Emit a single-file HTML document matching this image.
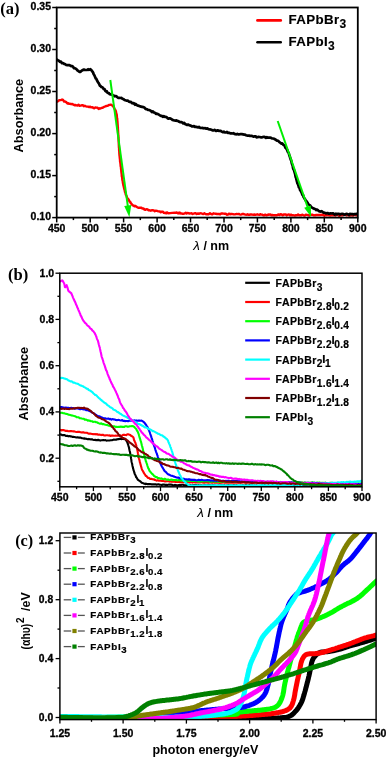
<!DOCTYPE html>
<html><head><meta charset="utf-8"><style>
html,body{margin:0;padding:0;background:#fff;}
body{width:388px;height:760px;overflow:hidden;}
svg{display:block;}
</style></head><body>
<svg width="388" height="760" viewBox="0 0 388 760">
<defs>
<clipPath id="ca"><rect x="56.7" y="7.5" width="301.1" height="210.1"/></clipPath>
<clipPath id="cb"><rect x="59.8" y="273.2" width="302.2" height="213.6"/></clipPath>
<clipPath id="cc"><rect x="59.9" y="533.0" width="316.2" height="186.6"/></clipPath>
</defs>
<rect width="388" height="760" fill="#fff"/>
<polyline points="57.0,101.6 57.7,101.5 58.7,100.5 59.9,100.1 61.2,100.0 62.1,99.5 63.0,99.9 64.1,101.5 65.1,101.5 66.2,102.1 67.4,103.5 68.3,103.2 69.3,103.9 70.2,103.8 71.2,104.2 72.3,103.9 73.4,104.7 74.5,105.2 75.6,105.0 76.5,105.4 77.5,105.5 78.5,104.8 79.6,105.7 80.6,105.6 81.7,105.3 82.7,105.1 83.8,106.2 84.9,105.8 85.9,106.3 87.0,106.6 88.0,106.6 89.2,107.1 90.3,106.7 91.4,107.4 92.5,107.2 93.5,108.0 94.5,108.2 95.4,107.4 96.2,107.6 97.6,107.8 98.7,108.9 99.6,108.3 100.4,108.5 101.3,108.0 102.4,107.9 103.4,107.3 104.4,106.7 105.5,106.4 106.5,105.9 107.7,105.8 108.9,105.0 110.0,104.9 110.8,104.6 111.8,105.2 112.4,105.7 113.1,105.8 113.8,107.4 114.5,108.6 114.9,109.3 115.3,109.9 115.7,111.1 116.0,111.7 116.2,113.2 116.4,113.7 116.6,114.2 116.8,115.0 116.9,117.1 117.1,118.6 117.2,118.3 117.3,120.0 117.3,120.5 117.4,121.2 117.5,122.4 117.6,124.1 117.7,125.3 117.7,125.4 117.8,127.1 117.9,127.5 117.9,129.3 118.0,129.8 118.1,131.5 118.1,132.6 118.2,133.0 118.2,134.5 118.3,134.6 118.4,135.2 118.4,136.8 118.5,137.1 118.5,138.4 118.6,139.9 118.6,141.0 118.7,141.3 118.7,142.1 118.8,144.1 118.8,144.4 118.9,146.1 118.9,147.1 119.0,147.5 119.1,148.6 119.1,149.8 119.2,151.0 119.3,152.0 119.3,153.0 119.4,154.1 119.5,155.5 119.6,156.0 119.7,156.9 119.8,158.3 119.9,158.8 120.0,159.9 120.1,161.8 120.3,162.3 120.4,163.4 120.5,163.8 120.6,165.3 120.7,166.5 120.9,166.8 121.0,168.5 121.1,169.4 121.2,169.6 121.3,171.2 121.4,172.2 121.6,173.6 121.7,174.3 121.8,175.8 121.9,176.8 122.1,176.8 122.2,177.8 122.3,179.4 122.5,180.6 122.6,180.7 122.8,182.1 123.0,183.4 123.2,184.1 123.4,185.3 123.7,186.3 123.9,187.4 124.2,188.6 124.4,189.3 124.7,190.5 125.0,192.0 125.3,192.2 125.6,193.9 125.9,195.0 126.3,195.4 126.6,196.2 127.2,198.1 127.7,198.3 128.3,199.2 129.0,200.4 129.6,201.6 130.2,201.9 130.8,203.1 131.6,204.0 132.6,205.4 133.4,205.4 134.2,206.3 135.2,205.9 136.2,206.5 137.3,207.2 138.3,207.8 139.4,207.6 140.4,207.7 141.4,207.8 142.4,208.6 143.4,208.5 144.5,209.5 145.5,209.8 146.5,209.2 147.6,209.5 148.6,210.4 149.6,210.3 150.7,210.7 151.7,210.3 152.8,210.1 153.8,210.5 154.8,211.2 155.9,210.7 156.9,210.9 157.9,211.2 158.9,211.4 159.9,211.5 160.8,212.3 161.8,211.6 162.8,211.6 163.9,212.9 165.0,213.0 165.7,213.2 166.2,212.6 166.4,213.2 166.7,213.2 167.1,212.4 167.7,213.1 168.6,213.2 170.1,213.1 172.2,212.9 175.0,212.7 175.6,212.8 176.2,212.7 176.9,212.5 177.6,213.2 178.3,212.8 179.0,213.5 179.8,212.6 180.6,213.6 181.4,213.4 182.2,213.7 183.0,213.7 183.9,213.7 184.8,213.3 185.7,212.7 186.6,213.6 187.6,212.9 188.5,213.1 189.5,213.6 190.5,213.4 191.5,213.3 192.5,214.0 193.5,213.6 194.6,213.3 195.6,213.2 196.7,214.0 197.7,213.5 198.8,213.9 199.9,213.4 201.0,213.3 202.1,213.7 203.2,214.0 204.4,213.3 205.5,214.1 206.6,214.2 207.7,214.1 208.9,214.2 210.0,213.2 211.1,214.0 212.3,214.3 213.4,213.3 214.6,213.6 215.7,213.7 216.8,214.0 218.0,213.9 219.1,214.0 220.2,214.4 221.3,213.4 222.4,213.5 223.5,213.6 224.6,213.7 225.7,213.6 226.8,214.7 227.9,214.6 228.9,213.7 230.0,214.2 231.0,214.0 231.9,214.0 232.9,214.1 233.8,214.4 234.8,214.4 235.8,214.1 236.7,213.9 237.7,214.1 238.7,213.9 239.6,214.4 240.6,214.6 241.6,214.3 242.5,213.9 243.5,214.0 244.5,214.3 245.5,214.6 246.4,214.8 247.4,214.3 248.4,214.9 249.4,214.7 250.4,214.5 251.3,214.4 252.3,214.6 253.3,214.8 254.3,214.5 255.3,214.8 256.3,214.6 257.3,214.3 258.3,214.7 259.2,214.9 260.2,214.2 261.2,214.6 262.2,214.6 263.2,215.2 264.3,215.3 265.3,214.6 266.3,215.2 267.3,215.1 268.3,214.5 269.3,214.7 270.3,214.4 271.3,215.2 272.3,215.0 273.4,215.3 274.4,215.2 275.4,215.1 276.4,215.2 277.5,215.0 278.5,214.4 279.5,215.0 280.6,214.3 281.6,214.5 282.7,215.3 283.7,214.4 284.7,214.5 285.8,214.5 286.8,215.4 287.9,214.6 288.9,214.4 290.0,215.4 291.0,214.6 291.9,215.4 292.9,215.2 293.9,215.4 294.9,215.6 296.0,215.1 297.0,215.4 298.1,214.5 299.2,215.4 300.3,215.1 301.4,215.3 302.5,214.6 303.6,215.4 304.7,215.6 305.8,214.6 307.0,214.9 308.1,215.2 309.3,215.5 310.4,214.8 311.6,214.7 312.7,214.8 313.9,215.3 315.1,215.4 316.2,215.0 317.4,215.0 318.6,215.0 319.7,215.0 320.9,215.0 322.1,214.6 323.2,215.1 324.4,215.7 325.5,215.0 326.7,215.4 327.8,214.7 328.9,215.4 330.1,215.5 331.2,215.4 332.3,215.2 333.4,215.1 334.5,215.3 335.5,215.6 336.6,214.7 337.7,214.7 338.7,215.5 339.7,215.7 340.7,215.2 341.7,215.1 342.7,215.4 343.6,214.8 344.6,214.9 345.5,214.8 346.4,215.3 347.3,215.0 348.1,214.9 349.0,215.4 349.8,215.7 350.6,214.9 351.3,215.4 352.1,215.1 352.8,215.6 353.5,215.3 354.1,214.9 354.8,214.9 355.4,214.6 355.9,215.2 356.5,215.1 357.0,215.2" fill="none" stroke="#ff0000" stroke-width="2.4" stroke-linejoin="round" stroke-linecap="round" clip-path="url(#ca)"/>
<polyline points="57.0,59.6 57.7,60.2 58.7,60.6 59.9,61.8 61.0,61.6 62.0,63.2 63.0,63.2 64.1,63.9 65.3,64.3 66.2,65.0 67.3,65.2 68.4,65.1 69.5,65.2 70.6,65.7 71.5,66.2 72.4,66.2 73.3,67.2 74.0,68.2 74.8,68.2 75.6,68.6 76.5,69.2 77.4,70.4 78.4,71.0 79.3,71.8 80.2,71.9 81.2,71.1 82.0,70.5 82.9,70.0 83.9,69.5 84.9,70.0 86.0,70.0 87.1,70.0 88.1,69.2 89.0,69.9 90.4,69.2 91.7,70.4 92.1,71.4 92.6,71.5 93.1,72.5 93.7,74.4 94.2,74.9 94.7,76.1 95.3,77.5 95.8,78.6 96.2,78.6 96.9,80.3 97.6,81.5 98.2,82.6 98.8,83.2 99.3,84.4 100.0,85.9 100.6,85.9 101.3,86.9 102.0,87.0 102.8,87.8 103.6,88.9 104.5,89.0 105.2,90.7 106.0,91.4 106.7,91.2 107.6,93.0 108.7,93.0 109.6,94.0 110.6,94.5 111.7,94.4 112.8,95.3 114.0,95.7 115.0,96.3 116.0,96.0 117.2,97.1 118.3,97.8 119.3,97.8 120.3,98.0 121.3,97.9 122.4,98.8 123.4,99.1 124.5,99.9 125.5,100.3 126.6,100.6 127.7,100.5 128.8,101.5 129.9,102.0 130.9,101.8 131.8,103.1 132.7,103.3 133.5,103.0 135.0,104.7 135.7,104.0 136.4,104.6 137.2,105.4 138.1,105.6 139.0,105.9 140.0,106.4 141.0,106.6 142.1,106.8 143.2,107.1 144.3,107.5 145.5,108.8 146.3,109.2 147.2,109.3 148.1,110.0 149.0,110.0 149.9,110.3 150.9,110.9 151.9,112.0 152.9,111.4 153.9,112.5 154.9,112.7 155.9,113.8 156.9,113.7 157.9,114.1 158.9,114.7 159.9,115.3 160.9,115.9 161.9,115.8 162.8,116.8 163.8,116.2 164.8,116.8 165.7,116.9 166.7,117.2 167.7,118.4 168.6,118.6 169.6,118.3 170.6,118.6 171.6,119.2 172.5,119.9 173.5,120.2 174.5,120.5 175.4,120.6 176.4,120.4 177.4,121.0 178.3,121.1 179.3,121.8 180.3,122.2 181.2,122.1 182.2,122.5 183.2,123.4 184.2,122.9 185.1,124.1 186.1,124.5 187.1,124.9 188.0,124.5 189.0,125.0 190.0,125.4 190.9,125.7 191.9,126.4 192.9,126.3 194.0,126.1 195.0,127.0 196.0,126.8 197.0,127.1 198.1,127.5 199.1,126.8 200.1,127.9 201.1,128.0 202.2,127.9 203.2,128.2 204.2,128.3 205.2,128.1 206.3,128.7 207.3,128.3 208.3,129.1 209.4,129.5 210.4,129.4 211.4,129.8 212.5,130.4 213.5,130.5 214.5,129.8 215.6,130.8 216.6,130.8 217.6,130.3 218.7,130.8 219.7,130.9 220.7,130.8 221.8,131.6 222.8,132.2 223.8,131.7 224.9,132.5 226.0,132.5 227.0,131.9 228.1,133.0 229.2,132.8 230.3,133.4 231.3,133.3 232.4,133.5 233.4,133.2 234.4,133.9 235.4,134.2 236.4,134.3 237.4,133.9 238.3,134.4 239.5,134.3 240.7,134.0 241.8,134.1 243.0,134.3 244.0,134.6 245.1,134.7 246.1,135.2 247.1,135.6 248.1,135.6 249.1,135.6 250.0,136.0 251.2,135.8 252.4,136.1 253.4,136.7 254.5,136.4 255.5,136.3 256.5,137.3 257.5,137.2 258.6,136.9 259.6,137.0 260.7,137.3 261.7,137.4 262.8,137.0 263.9,136.8 264.9,137.1 265.9,137.9 266.9,137.2 267.8,137.7 269.0,137.5 270.1,137.7 271.1,137.9 272.0,138.5 273.0,138.5 274.0,138.7 274.9,139.2 275.8,139.7 276.7,140.6 277.7,140.6 278.5,141.1 279.4,142.1 280.2,142.6 281.2,143.6 282.2,143.4 283.0,144.4 283.9,145.2 284.8,145.8 285.3,147.6 285.7,147.5 286.2,148.1 286.7,149.4 287.2,149.9 287.6,151.4 288.1,152.1 288.6,152.9 289.0,154.0 289.5,156.0 289.8,156.2 290.1,157.7 290.4,158.2 290.7,159.6 290.9,159.8 291.2,160.7 291.5,161.7 291.8,163.4 292.1,164.2 292.4,164.9 292.7,165.6 292.9,167.3 293.2,168.7 293.5,169.2 293.8,169.5 294.1,170.5 294.4,171.6 294.7,172.7 295.0,173.5 295.2,174.5 295.5,176.2 295.8,177.5 296.1,177.7 296.4,179.6 296.6,180.0 296.9,181.4 297.2,182.5 297.5,183.5 297.8,183.3 298.1,184.6 298.5,185.8 298.8,187.1 299.2,187.2 299.7,188.5 300.1,190.2 300.6,190.3 301.1,191.7 301.6,192.6 302.1,194.0 302.6,195.2 303.1,195.2 303.5,196.8 304.0,197.7 304.5,198.6 305.0,199.1 305.7,200.6 306.3,200.9 306.9,201.9 307.5,202.6 308.2,204.1 308.8,204.5 309.5,205.0 310.3,205.6 311.1,207.0 311.9,207.4 312.7,208.1 313.6,208.3 314.4,208.9 315.4,209.0 316.3,210.1 317.3,209.7 318.3,210.6 319.3,211.3 320.4,211.6 321.3,211.2 322.3,211.6 323.3,212.6 324.3,212.6 325.3,213.1 326.4,213.3 327.5,213.0 328.6,213.7 329.6,213.7 330.7,213.3 331.8,213.5 332.8,213.3 333.8,213.8 334.9,214.6 335.9,213.6 337.0,214.3 338.0,213.8 339.0,213.8 340.1,214.5 341.1,214.0 342.1,213.8 343.2,214.0 344.2,214.6 345.2,214.5 346.3,213.8 347.5,214.0 348.8,214.9 350.0,213.9 351.3,214.2 352.5,214.0 353.6,214.4 354.6,214.1 355.6,214.2 356.4,213.9 357.0,213.8" fill="none" stroke="#000000" stroke-width="2.7" stroke-linejoin="round" stroke-linecap="round" clip-path="url(#ca)"/>
<line x1="110.3" y1="80.0" x2="128.0" y2="207.4" stroke="#00ee00" stroke-width="2.0"/>
<polygon points="129.4,217.3 124.2,205.9 131.3,204.9" fill="#00ee00"/>
<line x1="277.7" y1="121.0" x2="308.1" y2="208.4" stroke="#00ee00" stroke-width="2.0"/>
<polygon points="311.1,216.9 304.2,207.7 310.8,205.4" fill="#00ee00"/>
<rect x="56.7" y="7.5" width="301.1" height="210.1" fill="none" stroke="#000" stroke-width="1.8"/>
<line x1="52.2" y1="217.6" x2="56.7" y2="217.6" stroke="#000" stroke-width="1.5"/>
<text x="51.0" y="220.4" font-size="10.5" font-weight="bold" font-family='"Liberation Sans", Arial, sans-serif' text-anchor="end" stroke="#000" stroke-width="0.3">0.10</text>
<line x1="54.2" y1="196.6" x2="56.7" y2="196.6" stroke="#000" stroke-width="1.5"/>
<line x1="52.2" y1="175.6" x2="56.7" y2="175.6" stroke="#000" stroke-width="1.5"/>
<text x="51.0" y="178.4" font-size="10.5" font-weight="bold" font-family='"Liberation Sans", Arial, sans-serif' text-anchor="end" stroke="#000" stroke-width="0.3">0.15</text>
<line x1="54.2" y1="154.6" x2="56.7" y2="154.6" stroke="#000" stroke-width="1.5"/>
<line x1="52.2" y1="133.6" x2="56.7" y2="133.6" stroke="#000" stroke-width="1.5"/>
<text x="51.0" y="136.4" font-size="10.5" font-weight="bold" font-family='"Liberation Sans", Arial, sans-serif' text-anchor="end" stroke="#000" stroke-width="0.3">0.20</text>
<line x1="54.2" y1="112.5" x2="56.7" y2="112.5" stroke="#000" stroke-width="1.5"/>
<line x1="52.2" y1="91.5" x2="56.7" y2="91.5" stroke="#000" stroke-width="1.5"/>
<text x="51.0" y="94.3" font-size="10.5" font-weight="bold" font-family='"Liberation Sans", Arial, sans-serif' text-anchor="end" stroke="#000" stroke-width="0.3">0.25</text>
<line x1="54.2" y1="70.5" x2="56.7" y2="70.5" stroke="#000" stroke-width="1.5"/>
<line x1="52.2" y1="49.5" x2="56.7" y2="49.5" stroke="#000" stroke-width="1.5"/>
<text x="51.0" y="52.3" font-size="10.5" font-weight="bold" font-family='"Liberation Sans", Arial, sans-serif' text-anchor="end" stroke="#000" stroke-width="0.3">0.30</text>
<line x1="54.2" y1="28.5" x2="56.7" y2="28.5" stroke="#000" stroke-width="1.5"/>
<line x1="52.2" y1="7.5" x2="56.7" y2="7.5" stroke="#000" stroke-width="1.5"/>
<text x="51.0" y="10.3" font-size="10.5" font-weight="bold" font-family='"Liberation Sans", Arial, sans-serif' text-anchor="end" stroke="#000" stroke-width="0.3">0.35</text>
<line x1="56.7" y1="217.6" x2="56.7" y2="222.4" stroke="#000" stroke-width="1.5"/>
<text x="56.7" y="231.6" font-size="10.5" font-weight="bold" font-family='"Liberation Sans", Arial, sans-serif' text-anchor="middle" stroke="#000" stroke-width="0.3">450</text>
<line x1="73.4" y1="217.6" x2="73.4" y2="220.1" stroke="#000" stroke-width="1.5"/>
<line x1="90.2" y1="217.6" x2="90.2" y2="222.4" stroke="#000" stroke-width="1.5"/>
<text x="90.2" y="231.6" font-size="10.5" font-weight="bold" font-family='"Liberation Sans", Arial, sans-serif' text-anchor="middle" stroke="#000" stroke-width="0.3">500</text>
<line x1="106.9" y1="217.6" x2="106.9" y2="220.1" stroke="#000" stroke-width="1.5"/>
<line x1="123.6" y1="217.6" x2="123.6" y2="222.4" stroke="#000" stroke-width="1.5"/>
<text x="123.6" y="231.6" font-size="10.5" font-weight="bold" font-family='"Liberation Sans", Arial, sans-serif' text-anchor="middle" stroke="#000" stroke-width="0.3">550</text>
<line x1="140.3" y1="217.6" x2="140.3" y2="220.1" stroke="#000" stroke-width="1.5"/>
<line x1="157.1" y1="217.6" x2="157.1" y2="222.4" stroke="#000" stroke-width="1.5"/>
<text x="157.1" y="231.6" font-size="10.5" font-weight="bold" font-family='"Liberation Sans", Arial, sans-serif' text-anchor="middle" stroke="#000" stroke-width="0.3">600</text>
<line x1="173.8" y1="217.6" x2="173.8" y2="220.1" stroke="#000" stroke-width="1.5"/>
<line x1="190.5" y1="217.6" x2="190.5" y2="222.4" stroke="#000" stroke-width="1.5"/>
<text x="190.5" y="231.6" font-size="10.5" font-weight="bold" font-family='"Liberation Sans", Arial, sans-serif' text-anchor="middle" stroke="#000" stroke-width="0.3">650</text>
<line x1="207.2" y1="217.6" x2="207.2" y2="220.1" stroke="#000" stroke-width="1.5"/>
<line x1="224.0" y1="217.6" x2="224.0" y2="222.4" stroke="#000" stroke-width="1.5"/>
<text x="224.0" y="231.6" font-size="10.5" font-weight="bold" font-family='"Liberation Sans", Arial, sans-serif' text-anchor="middle" stroke="#000" stroke-width="0.3">700</text>
<line x1="240.7" y1="217.6" x2="240.7" y2="220.1" stroke="#000" stroke-width="1.5"/>
<line x1="257.4" y1="217.6" x2="257.4" y2="222.4" stroke="#000" stroke-width="1.5"/>
<text x="257.4" y="231.6" font-size="10.5" font-weight="bold" font-family='"Liberation Sans", Arial, sans-serif' text-anchor="middle" stroke="#000" stroke-width="0.3">750</text>
<line x1="274.2" y1="217.6" x2="274.2" y2="220.1" stroke="#000" stroke-width="1.5"/>
<line x1="290.9" y1="217.6" x2="290.9" y2="222.4" stroke="#000" stroke-width="1.5"/>
<text x="290.9" y="231.6" font-size="10.5" font-weight="bold" font-family='"Liberation Sans", Arial, sans-serif' text-anchor="middle" stroke="#000" stroke-width="0.3">800</text>
<line x1="307.6" y1="217.6" x2="307.6" y2="220.1" stroke="#000" stroke-width="1.5"/>
<line x1="324.3" y1="217.6" x2="324.3" y2="222.4" stroke="#000" stroke-width="1.5"/>
<text x="324.3" y="231.6" font-size="10.5" font-weight="bold" font-family='"Liberation Sans", Arial, sans-serif' text-anchor="middle" stroke="#000" stroke-width="0.3">850</text>
<line x1="341.1" y1="217.6" x2="341.1" y2="220.1" stroke="#000" stroke-width="1.5"/>
<line x1="357.8" y1="217.6" x2="357.8" y2="222.4" stroke="#000" stroke-width="1.5"/>
<text x="357.8" y="231.6" font-size="10.5" font-weight="bold" font-family='"Liberation Sans", Arial, sans-serif' text-anchor="middle" stroke="#000" stroke-width="0.3">900</text>
<text x="211.2" y="249.8" font-size="12.5" font-weight="bold" font-family='"Liberation Sans", Arial, sans-serif' text-anchor="middle"><tspan font-style="italic" font-weight="normal" font-size="13.5">&#955;</tspan> / nm</text>
<text x="0.0" y="0.0" font-size="12.6" font-weight="bold" font-family='"Liberation Sans", Arial, sans-serif' text-anchor="middle" textLength="73.6" lengthAdjust="spacingAndGlyphs" transform="translate(22.9,115.6) rotate(-90)">Absorbance</text>
<text x="0.2" y="14.3" font-size="16.5" font-weight="bold" font-family='"Liberation Serif", "Times New Roman", serif' text-anchor="start">(a)</text>
<line x1="257.4" y1="20.4" x2="280.8" y2="20.4" stroke="#ff0000" stroke-width="2.6" stroke-linecap="round"/>
<line x1="257.4" y1="42.3" x2="280.8" y2="42.3" stroke="#000" stroke-width="2.4" stroke-linecap="round"/>
<text x="288.4" y="23.8" font-size="13.3" font-weight="bold" font-family='"Liberation Sans", Arial, sans-serif' text-anchor="start" stroke="#000" stroke-width="0.15" letter-spacing="0.4">FAPbBr<tspan font-size="12" letter-spacing="0" dy="4.0">3</tspan></text>
<text x="288.4" y="46.1" font-size="13.3" font-weight="bold" font-family='"Liberation Sans", Arial, sans-serif' text-anchor="start" stroke="#000" stroke-width="0.15" letter-spacing="0.4">FAPbI<tspan font-size="12" letter-spacing="0" dy="4.0">3</tspan></text>
<polyline points="60.0,434.4 60.6,434.5 61.4,434.6 62.4,435.3 63.5,435.0 64.7,435.1 65.9,436.0 67.1,435.7 68.3,436.4 69.2,436.0 70.2,436.4 71.2,436.3 72.3,436.9 73.3,436.9 74.4,437.0 75.4,437.2 76.5,437.5 77.6,437.2 78.6,437.6 79.6,437.6 80.7,437.6 81.7,438.2 82.7,438.3 83.8,438.6 84.8,438.4 85.8,438.8 86.8,438.9 87.9,439.2 88.9,438.9 89.9,439.2 91.0,439.4 92.0,439.3 93.0,439.7 94.1,440.0 95.1,439.9 96.1,440.1 97.1,440.1 98.2,439.9 99.2,440.1 100.2,440.6 101.3,440.2 102.3,440.3 103.3,440.0 104.3,440.2 105.4,440.1 106.4,440.6 107.4,440.5 108.5,440.5 109.5,440.5 110.6,440.2 111.7,440.3 112.8,439.9 113.9,439.6 115.0,439.8 116.1,439.6 117.2,439.4 118.2,439.0 119.1,439.1 119.9,438.7 121.3,439.1 122.4,439.0 123.4,438.6 124.2,439.2 125.0,439.0 125.8,439.6 126.4,440.8 127.0,441.6 127.5,443.0 127.8,443.9 128.1,444.4 128.4,445.9 128.7,446.6 129.0,447.8 129.2,448.8 129.5,450.2 129.7,451.1 129.9,451.8 130.1,452.6 130.3,453.8 130.5,454.9 130.6,455.7 130.8,456.8 131.0,458.2 131.2,459.1 131.4,460.4 131.5,461.4 131.7,462.3 131.9,463.0 132.1,463.8 132.3,464.9 132.5,466.0 132.8,467.1 133.0,468.1 133.3,469.1 133.6,470.4 133.9,471.0 134.2,472.1 134.5,473.3 134.9,474.2 135.3,474.9 135.7,475.8 136.1,477.1 136.5,477.4 137.0,478.2 137.7,479.5 138.4,480.2 139.1,480.6 140.0,481.2 140.9,481.9 141.7,482.8 142.9,483.1 144.4,483.8 145.0,483.8 145.4,484.1 145.6,483.6 145.9,483.8 146.4,483.7 147.1,484.1 148.1,484.1 149.7,484.0 151.8,484.4 154.7,484.2 155.3,484.4 155.9,484.4 156.6,484.8 157.2,484.5 157.9,484.4 158.6,484.3 159.3,484.6 160.0,484.7 160.8,484.8 161.5,485.0 162.3,484.9 163.1,484.5 163.9,484.5 164.8,484.9 165.6,484.9 166.5,484.8 167.3,485.0 168.2,484.8 169.1,484.6 170.0,484.6 171.0,484.5 171.9,484.9 172.9,485.1 173.8,485.2 174.8,484.9 175.8,485.0 176.9,485.2 177.9,485.2 178.9,485.0 180.0,484.9 181.0,485.0 182.1,484.8 183.2,484.8 184.3,485.2 185.4,485.4 186.6,485.1 187.7,485.0 188.9,485.0 190.0,485.1 191.2,485.3 192.4,485.1 193.6,485.5 194.8,484.9 196.0,485.0 197.2,485.2 198.5,485.1 199.7,485.4 201.0,485.4 202.2,485.5 203.5,485.3 204.8,484.9 206.1,485.3 207.4,485.3 208.7,485.3 210.0,485.1 210.8,485.5 211.6,485.6 212.5,485.0 213.3,485.4 214.2,485.2 215.1,485.4 215.9,485.6 216.8,485.7 217.7,485.5 218.6,485.2 219.5,485.7 220.5,485.2 221.4,485.3 222.4,485.6 223.3,485.3 224.3,485.3 225.2,485.7 226.2,485.7 227.2,485.3 228.2,485.4 229.2,485.3 230.2,485.2 231.2,485.3 232.2,485.8 233.3,485.2 234.3,485.3 235.3,485.3 236.4,485.2 237.4,485.5 238.5,485.7 239.5,485.7 240.6,485.6 241.6,485.7 242.7,485.2 243.8,485.4 244.8,485.9 245.9,485.2 247.0,485.4 248.1,485.5 249.1,485.4 250.2,485.6 251.3,485.3 252.4,485.4 253.5,485.9 254.6,485.3 255.7,485.9 256.7,485.4 257.8,485.9 258.9,485.7 260.0,485.7 261.1,485.4 262.2,485.3 263.3,485.8 264.3,485.4 265.4,485.4 266.5,485.9 267.6,485.9 268.6,485.3 269.7,486.0 270.8,485.7 271.8,485.6 272.9,485.4 274.0,485.6 275.0,486.0 276.0,485.5 277.1,485.4 278.1,485.5 279.2,485.4 280.2,485.6 281.2,486.0 282.2,485.4 283.2,485.5 284.2,486.0 285.2,486.1 286.2,486.1 287.2,485.6 288.2,485.6 289.1,486.1 290.1,485.7 291.0,485.9 292.0,485.6 292.9,485.4 293.8,485.7 294.7,485.9 295.6,486.0 296.5,485.8 297.4,485.8 298.3,485.8 299.1,485.8 300.0,485.8 301.2,486.0 302.5,485.6 303.7,485.9 304.9,486.1 306.1,486.1 307.4,485.6 308.6,486.2 309.8,486.1 311.1,485.6 312.3,485.7 313.5,485.6 314.7,485.5 315.9,486.2 317.2,485.8 318.4,486.1 319.6,485.6 320.8,485.5 322.0,486.1 323.1,486.1 324.3,486.2 325.5,486.0 326.7,485.9 327.8,486.1 329.0,485.6 330.1,485.9 331.2,485.9 332.3,485.7 333.5,486.0 334.6,485.8 335.6,485.9 336.7,485.8 337.8,485.8 338.8,485.8 339.9,486.0 340.9,486.3 341.9,486.3 342.9,486.2 343.9,486.2 344.9,485.8 345.9,486.3 346.8,485.8 347.7,485.7 348.6,486.0 349.5,486.1 350.4,485.9 351.3,486.1 352.1,485.8 352.9,486.3 353.7,485.9 354.5,486.0 355.3,486.0 356.0,486.2 356.7,486.3 357.4,486.0 358.1,485.9 358.8,486.1 359.4,485.7 360.0,485.9 360.6,486.2 361.1,486.2 361.7,485.7 362.2,486.0" fill="none" stroke="#000000" stroke-width="2.1" stroke-linejoin="round" stroke-linecap="round" clip-path="url(#cb)"/>
<polyline points="60.0,430.1 60.6,429.9 61.4,430.4 62.4,430.1 63.5,430.1 64.7,430.5 65.9,430.9 67.1,430.7 68.3,431.2 69.2,431.2 70.2,431.0 71.2,431.1 72.3,431.3 73.3,431.4 74.4,431.4 75.4,431.8 76.5,432.0 77.6,431.9 78.6,431.8 79.6,431.9 80.7,432.2 81.7,432.5 82.7,432.3 83.8,432.4 84.8,432.7 85.8,432.8 86.8,432.8 87.9,433.3 88.9,433.7 89.9,433.6 91.0,433.8 92.0,434.0 93.0,434.1 94.1,434.3 95.1,434.1 96.1,434.4 97.1,434.1 98.2,434.8 99.2,434.5 100.2,434.7 101.3,435.1 102.3,434.8 103.3,434.9 104.3,435.5 105.4,435.4 106.4,435.2 107.4,435.2 108.5,435.5 109.5,435.4 110.5,436.0 111.6,435.5 112.7,435.6 113.8,435.7 114.8,435.7 115.9,435.6 116.9,435.7 118.0,435.7 118.9,435.5 119.9,435.2 121.1,435.7 122.2,435.4 123.4,434.8 124.5,434.9 125.5,435.0 126.5,435.1 127.3,434.3 128.1,434.3 129.5,434.7 130.3,435.0 131.0,435.8 132.1,436.3 133.1,437.0 133.5,437.8 133.8,438.9 134.1,440.2 134.5,440.8 134.9,442.0 135.4,442.8 135.8,444.3 136.2,445.1 136.5,446.7 136.7,447.4 137.0,448.5 137.2,449.4 137.5,450.8 137.7,451.9 137.9,453.2 138.1,454.0 138.3,455.0 138.5,456.6 138.7,457.5 139.0,458.6 139.3,459.6 139.6,460.6 139.8,462.1 140.1,462.7 140.4,464.0 140.7,465.2 141.0,466.1 141.4,467.5 141.7,468.6 142.0,469.5 142.4,470.3 142.9,471.0 143.4,472.0 144.0,473.2 144.5,473.9 145.1,474.7 145.8,475.9 146.5,476.1 147.3,477.2 148.1,477.9 149.0,477.8 149.9,478.9 151.2,478.9 152.7,479.2 153.4,479.4 154.1,479.4 154.7,479.9 155.4,480.0 156.1,480.5 156.8,480.6 157.6,480.2 158.5,480.6 159.5,480.7 160.7,480.7 162.0,480.9 163.5,481.0 165.2,481.4 167.1,481.3 167.8,481.2 168.5,481.3 169.2,481.5 169.9,481.6 170.6,481.4 171.3,481.7 172.1,481.4 172.8,481.8 173.6,481.8 174.3,481.5 175.1,481.9 175.9,481.7 176.7,481.9 177.5,481.9 178.4,482.0 179.2,481.9 180.1,481.6 181.0,482.2 181.9,482.2 182.9,482.0 183.8,482.1 184.8,481.9 185.8,482.4 186.8,482.2 187.9,481.9 188.9,482.4 190.0,482.5 191.2,482.1 192.3,482.6 193.5,482.2 194.7,482.1 195.9,482.5 197.2,482.2 198.5,482.5 199.8,482.4 201.2,482.1 202.5,482.4 204.0,482.7 205.4,482.4 206.9,482.5 208.4,482.7 210.0,482.5 210.7,482.5 211.5,482.6 212.3,482.8 213.1,482.3 213.9,482.3 214.7,482.7 215.5,482.6 216.4,482.4 217.2,482.8 218.1,482.8 219.0,482.6 219.9,482.9 220.8,482.8 221.7,482.8 222.6,482.5 223.5,482.3 224.5,482.7 225.4,482.8 226.4,482.5 227.4,482.6 228.4,482.7 229.3,482.5 230.3,482.8 231.3,482.7 232.4,482.6 233.4,482.4 234.4,482.7 235.4,482.5 236.5,482.8 237.5,482.4 238.6,482.6 239.7,482.5 240.7,482.6 241.8,482.7 242.9,482.4 243.9,482.4 245.0,482.7 246.1,482.5 247.2,482.7 248.3,482.5 249.4,482.4 250.5,482.7 251.6,483.0 252.7,483.0 253.8,482.7 254.9,482.7 256.0,482.4 257.1,482.6 258.2,482.6 259.3,483.1 260.4,482.5 261.5,483.1 262.6,482.7 263.7,482.7 264.8,482.6 265.9,483.1 267.0,482.5 268.1,482.8 269.2,482.8 270.3,482.6 271.4,482.6 272.5,483.1 273.6,483.0 274.6,483.0 275.7,483.1 276.8,482.5 277.8,483.0 278.9,483.0 279.9,482.6 281.0,482.8 282.0,483.2 283.0,482.7 284.0,483.0 285.1,482.6 286.1,483.0 287.1,482.7 288.0,482.9 289.0,482.8 290.0,483.2 291.0,483.1 291.9,482.9 292.9,483.1 293.8,482.9 294.7,483.2 295.6,482.8 296.5,483.0 297.4,483.0 298.3,482.9 299.1,482.7 300.0,482.8 301.2,483.1 302.5,482.8 303.7,483.2 304.9,483.1 306.1,483.4 307.4,483.4 308.6,483.3 309.8,483.1 311.1,482.9 312.3,483.2 313.5,483.4 314.7,483.5 315.9,483.1 317.2,483.1 318.4,483.7 319.6,483.5 320.8,483.4 322.0,483.6 323.1,483.2 324.3,483.5 325.5,483.6 326.7,483.6 327.8,483.3 329.0,483.3 330.1,483.7 331.2,483.9 332.3,483.4 333.5,483.3 334.6,483.4 335.6,484.0 336.7,483.7 337.8,483.8 338.8,484.2 339.9,483.9 340.9,483.7 341.9,484.1 342.9,483.6 343.9,483.8 344.9,484.1 345.9,483.8 346.8,483.7 347.7,484.1 348.6,484.0 349.5,484.5 350.4,483.9 351.3,484.4 352.1,484.1 352.9,484.5 353.7,484.2 354.5,484.4 355.3,484.2 356.0,484.1 356.7,484.3 357.4,484.6 358.1,484.3 358.8,484.2 359.4,484.4 360.0,484.2 360.6,484.3 361.1,484.5 361.7,484.5 362.2,484.5" fill="none" stroke="#ff0000" stroke-width="2.1" stroke-linejoin="round" stroke-linecap="round" clip-path="url(#cb)"/>
<polyline points="60.0,412.9 60.6,412.8 61.4,412.7 62.4,412.9 63.5,413.3 64.7,413.4 65.9,413.9 67.1,414.0 68.3,414.6 69.2,414.7 70.2,415.0 71.2,415.4 72.3,415.5 73.3,415.8 74.4,416.1 75.4,416.2 76.5,417.1 77.6,417.2 78.6,417.2 79.6,418.1 80.7,418.2 81.7,418.5 82.7,418.7 83.8,418.8 84.8,419.8 85.8,419.5 86.8,419.9 87.9,420.7 88.9,420.3 89.9,420.9 91.0,421.1 92.0,421.2 93.0,421.9 94.1,421.8 95.1,421.8 96.1,422.3 97.1,422.3 98.2,423.0 99.2,423.4 100.2,423.7 101.3,423.3 102.4,424.1 103.4,424.1 104.5,424.5 105.5,424.7 106.6,425.0 107.6,425.1 108.6,425.7 109.5,425.5 110.6,426.3 111.7,425.9 112.7,426.7 113.7,426.3 114.6,426.3 115.6,426.9 116.7,426.8 117.8,427.0 118.8,426.8 119.8,426.9 120.9,426.5 122.1,426.9 123.2,426.7 124.3,427.0 125.4,426.2 126.4,426.2 127.3,426.6 128.1,426.7 129.9,426.2 131.1,426.2 132.0,426.0 133.2,426.2 134.1,426.8 135.0,427.8 136.0,428.7 136.5,429.6 137.0,430.7 137.6,431.3 138.2,433.0 138.5,433.6 138.8,434.5 139.1,435.7 139.4,436.7 139.7,437.9 140.0,438.7 140.3,439.6 140.7,440.9 141.0,441.8 141.3,443.1 141.6,444.3 141.8,445.3 142.1,446.1 142.3,447.1 142.6,448.1 142.9,449.3 143.1,450.6 143.4,451.5 143.6,453.0 143.9,453.8 144.1,454.6 144.4,455.7 144.7,456.5 145.0,458.1 145.3,459.2 145.6,460.1 145.9,461.4 146.3,462.1 146.6,463.1 146.9,464.0 147.2,464.9 147.5,466.1 148.0,467.4 148.4,468.6 148.9,469.1 149.3,470.6 149.9,471.3 150.6,472.1 151.2,472.9 151.8,473.6 152.5,474.1 153.3,474.9 154.0,475.8 154.9,476.4 155.8,477.1 156.8,477.1 157.6,477.9 158.5,478.1 159.5,478.3 160.4,478.7 161.4,478.4 162.5,479.0 163.6,479.2 164.7,478.8 165.9,479.3 167.1,479.7 168.0,479.4 168.8,479.8 169.7,480.0 170.5,479.7 171.4,479.6 172.2,479.7 173.2,480.2 174.1,480.0 175.1,480.0 176.2,480.1 177.4,480.5 178.7,480.1 180.0,480.0 181.5,480.7 182.2,480.3 183.0,480.4 183.6,480.8 184.3,480.4 184.9,480.3 185.6,480.9 186.2,480.5 186.8,480.5 187.5,481.0 188.1,480.6 188.8,481.1 189.5,480.7 190.2,480.7 191.0,480.7 191.9,481.0 192.7,481.0 193.7,480.9 194.7,481.0 195.8,480.9 197.0,481.3 198.2,481.4 199.6,481.4 201.0,481.4 202.6,481.0 204.2,481.1 206.0,481.1 208.0,481.1 210.0,481.7 210.7,481.7 211.4,481.7 212.1,481.5 212.8,481.2 213.5,481.4 214.3,481.2 215.0,481.8 215.8,481.3 216.6,481.4 217.5,481.8 218.3,481.3 219.1,481.8 220.0,481.4 220.9,481.7 221.8,481.3 222.7,481.9 223.6,481.5 224.5,481.5 225.4,481.7 226.4,481.7 227.4,481.5 228.3,481.4 229.3,481.7 230.3,481.4 231.3,482.0 232.3,481.6 233.4,481.5 234.4,481.6 235.4,481.5 236.5,481.6 237.5,481.8 238.6,481.7 239.7,481.7 240.7,481.7 241.8,481.8 242.9,482.0 244.0,481.8 245.1,482.1 246.2,481.9 247.3,481.6 248.4,481.7 249.5,482.2 250.7,481.9 251.8,481.9 252.9,482.0 254.0,482.2 255.1,481.9 256.3,481.9 257.4,481.9 258.5,481.7 259.7,482.1 260.8,482.0 261.9,482.0 263.0,482.0 264.2,482.1 265.3,482.2 266.4,481.9 267.5,482.4 268.7,481.9 269.8,482.4 270.9,481.9 272.0,482.4 273.1,482.0 274.2,481.9 275.3,482.2 276.4,482.4 277.5,482.5 278.6,482.5 279.6,482.6 280.7,481.9 281.7,482.2 282.8,482.0 283.8,482.5 284.9,482.3 285.9,482.5 286.9,482.5 287.9,482.7 288.9,482.5 289.9,482.6 290.9,482.4 291.8,482.1 292.8,482.7 293.7,482.1 294.7,482.1 295.6,482.7 296.5,482.3 297.4,482.6 298.3,482.1 299.1,482.3 300.0,482.7 301.2,482.2 302.5,482.5 303.7,482.9 304.9,482.4 306.1,482.7 307.4,482.8 308.6,482.7 309.8,482.8 311.1,482.8 312.3,482.3 313.5,482.5 314.7,482.7 315.9,483.1 317.2,482.6 318.4,482.8 319.6,482.5 320.8,483.1 322.0,482.8 323.1,482.9 324.3,483.0 325.5,482.6 326.7,483.1 327.8,483.1 329.0,483.2 330.1,482.8 331.2,482.8 332.3,482.8 333.5,483.3 334.6,483.0 335.6,483.0 336.7,483.1 337.8,483.2 338.8,483.0 339.9,483.0 340.9,483.3 341.9,483.4 342.9,483.0 343.9,482.9 344.9,483.5 345.9,483.4 346.8,483.3 347.7,483.2 348.6,483.6 349.5,483.2 350.4,483.1 351.3,483.0 352.1,483.2 352.9,483.4 353.7,483.3 354.5,483.7 355.3,483.5 356.0,483.4 356.7,483.5 357.4,483.5 358.1,483.5 358.8,483.4 359.4,483.5 360.0,483.5 360.6,483.7 361.1,483.3 361.7,483.7 362.2,483.5" fill="none" stroke="#00ff00" stroke-width="2.1" stroke-linejoin="round" stroke-linecap="round" clip-path="url(#cb)"/>
<polyline points="60.0,407.1 60.6,407.5 61.4,407.0 62.4,407.4 63.5,407.5 64.7,407.8 65.9,407.6 67.1,407.7 68.3,407.7 69.2,408.1 70.2,408.2 71.2,407.8 72.3,408.0 73.3,408.1 74.4,408.7 75.4,408.4 76.5,408.5 77.6,408.4 78.6,408.8 79.6,409.1 80.7,409.1 81.8,408.8 82.9,409.3 84.0,409.5 85.1,409.4 86.1,410.1 87.1,410.0 88.0,410.3 88.9,410.8 90.0,411.2 91.0,411.6 91.8,412.4 92.7,412.8 93.4,413.2 94.3,413.6 95.1,414.4 96.1,414.9 97.1,415.6 98.1,416.0 99.1,416.3 100.2,416.8 101.3,417.3 102.2,417.5 103.2,418.2 104.1,418.2 105.1,418.2 106.2,418.7 107.2,418.8 108.4,418.5 109.5,419.2 110.5,418.9 111.5,419.6 112.5,419.1 113.6,419.4 114.7,419.5 115.8,420.0 116.9,420.1 117.9,420.0 118.9,419.9 119.9,420.2 121.0,420.5 122.2,420.1 123.2,420.9 124.3,420.9 125.3,421.1 126.3,421.0 127.2,421.0 128.1,421.3 129.2,420.8 130.3,420.8 131.2,420.6 132.2,420.5 133.1,420.9 134.1,420.3 135.1,420.7 136.2,420.4 137.3,420.7 138.4,420.6 139.4,420.6 140.3,420.8 141.5,420.6 142.5,421.2 143.5,421.8 144.4,422.7 145.0,423.5 145.7,424.4 146.3,425.2 146.9,426.3 147.5,427.1 148.0,427.9 148.4,428.9 148.8,429.9 149.1,430.8 149.4,431.4 149.8,432.5 150.2,433.8 150.6,434.8 150.9,436.0 151.2,436.3 151.4,437.6 151.8,438.4 152.1,439.2 152.4,440.5 152.7,441.4 153.1,442.8 153.4,443.8 153.7,444.6 154.1,445.8 154.4,446.7 154.7,447.2 155.1,448.7 155.4,449.8 155.8,450.9 156.1,451.8 156.4,452.6 156.8,453.5 157.1,454.8 157.5,455.5 157.8,456.8 158.1,457.6 158.5,458.7 158.9,459.5 159.3,460.6 159.8,462.0 160.2,462.9 160.6,463.7 161.0,464.8 161.5,465.7 162.0,466.7 162.5,467.5 163.1,468.3 163.7,469.7 164.3,470.5 164.9,471.3 165.6,471.7 166.3,472.4 167.1,473.5 168.0,474.2 168.8,474.6 169.6,474.7 170.5,475.5 171.4,475.7 172.4,475.9 173.4,476.4 174.4,476.6 175.4,477.1 176.4,477.4 177.4,477.8 178.3,477.5 179.2,478.0 180.0,478.5 180.9,478.5 181.7,478.7 182.7,479.0 183.7,478.6 184.9,479.3 186.2,479.3 187.7,479.5 188.4,479.3 189.0,479.6 189.6,479.3 190.1,479.6 190.6,479.5 191.1,480.0 191.6,479.9 192.1,479.8 192.6,480.0 193.2,479.8 193.9,479.9 194.6,479.7 195.4,480.2 196.4,480.2 197.5,480.2 198.7,479.8 200.1,480.3 201.7,479.8 203.4,480.2 205.4,480.3 207.6,480.0 210.0,480.3 210.6,480.7 211.3,480.5 212.0,480.3 212.7,480.7 213.4,480.4 214.1,480.8 214.8,480.5 215.6,480.3 216.4,480.9 217.2,480.3 218.0,480.5 218.8,480.8 219.7,480.4 220.5,480.7 221.4,481.0 222.3,480.8 223.2,480.7 224.1,481.0 225.0,481.1 226.0,480.9 226.9,481.0 227.9,480.8 228.9,480.9 229.9,481.3 230.9,481.3 231.9,480.7 232.9,480.8 233.9,480.9 235.0,481.3 236.0,480.9 237.1,480.9 238.1,481.4 239.2,481.0 240.3,481.6 241.4,481.3 242.5,481.6 243.6,481.6 244.7,481.2 245.8,481.6 246.9,481.4 248.0,481.3 249.1,481.2 250.2,481.7 251.4,481.6 252.5,481.4 253.6,481.9 254.8,481.4 255.9,481.6 257.1,481.4 258.2,481.6 259.3,482.0 260.5,481.8 261.6,481.6 262.8,481.7 263.9,482.0 265.0,481.8 266.2,482.2 267.3,481.7 268.4,482.3 269.6,482.1 270.7,482.3 271.8,482.0 272.9,481.8 274.0,481.9 275.1,482.3 276.2,481.9 277.3,482.0 278.4,482.5 279.5,482.6 280.6,482.6 281.6,482.6 282.7,482.4 283.7,482.7 284.8,482.6 285.8,482.5 286.9,482.4 287.9,482.2 288.9,482.2 289.9,482.4 290.8,482.6 291.8,482.3 292.8,483.0 293.7,482.7 294.7,482.8 295.6,483.0 296.5,482.5 297.4,483.0 298.3,483.1 299.1,482.6 300.0,482.5 301.2,483.0 302.5,483.1 303.7,483.1 304.9,482.8 306.1,483.0 307.4,482.7 308.6,482.8 309.8,483.0 311.1,483.2 312.3,482.8 313.5,483.4 314.7,482.8 315.9,483.5 317.2,483.0 318.4,483.4 319.6,483.4 320.8,483.6 322.0,483.3 323.1,483.4 324.3,483.2 325.5,483.6 326.7,483.1 327.8,483.7 329.0,483.5 330.1,483.1 331.2,483.8 332.3,483.3 333.5,483.2 334.6,483.3 335.6,483.2 336.7,483.4 337.8,483.7 338.8,483.9 339.9,483.7 340.9,483.9 341.9,483.9 342.9,483.8 343.9,483.6 344.9,483.5 345.9,483.5 346.8,483.8 347.7,483.5 348.6,483.9 349.5,483.6 350.4,483.8 351.3,483.8 352.1,483.9 352.9,483.6 353.7,483.7 354.5,484.0 355.3,483.7 356.0,484.0 356.7,484.2 357.4,483.8 358.1,484.2 358.8,484.0 359.4,484.3 360.0,484.0 360.6,484.1 361.1,484.1 361.7,483.8 362.2,484.0" fill="none" stroke="#0000ff" stroke-width="2.1" stroke-linejoin="round" stroke-linecap="round" clip-path="url(#cb)"/>
<polyline points="60.0,378.1 60.7,378.1 61.7,377.9 62.9,378.0 64.2,378.4 65.1,378.6 66.0,379.1 67.1,379.2 68.1,380.2 69.2,380.7 70.4,381.5 71.3,381.2 72.3,381.7 73.3,382.6 74.4,382.6 75.4,383.2 76.5,383.5 77.6,383.8 78.6,384.3 79.5,384.8 80.4,385.5 81.4,385.6 82.3,386.2 83.2,386.3 84.1,387.1 85.1,387.5 86.0,388.1 86.9,388.8 87.7,388.7 88.5,389.9 89.4,390.2 90.2,390.6 91.0,391.3 91.8,391.7 92.6,392.4 93.5,393.5 94.3,394.1 95.1,394.9 95.9,395.0 96.6,395.6 97.4,396.5 98.1,397.2 98.9,398.1 99.6,398.5 100.4,399.4 101.1,400.0 101.9,400.5 102.6,401.5 103.4,401.6 104.2,402.6 105.0,403.0 105.9,403.5 106.7,404.4 107.5,405.1 108.3,405.7 109.1,406.2 110.0,407.1 110.8,407.6 111.6,407.8 112.5,408.3 113.4,409.6 114.4,409.9 115.3,410.3 116.2,410.9 117.1,411.9 118.1,412.1 119.0,412.8 119.9,413.6 120.8,413.9 121.8,414.7 122.7,415.4 123.7,415.8 124.6,416.2 125.5,416.7 126.4,416.9 127.3,417.6 128.1,418.1 129.1,418.6 130.0,419.1 130.8,419.8 131.6,419.9 132.4,420.7 133.3,421.4 134.3,421.3 135.1,421.9 136.0,422.8 136.9,422.7 137.8,423.7 138.7,424.0 139.6,424.1 140.6,425.0 141.5,425.0 142.4,426.0 143.3,426.1 144.2,427.0 145.2,427.5 146.1,427.4 147.0,428.0 147.9,428.3 148.8,429.2 149.7,429.2 150.6,429.6 151.6,430.1 152.5,431.1 153.4,431.1 154.4,431.6 155.3,432.1 156.2,432.7 157.0,433.0 157.9,433.8 158.9,433.9 159.9,434.5 160.9,435.2 161.8,435.3 162.7,435.7 163.6,436.7 164.3,436.8 165.4,437.9 166.2,438.6 166.9,439.0 167.5,439.9 168.0,440.5 168.4,442.0 168.8,442.7 169.1,443.6 169.5,444.4 170.0,445.5 170.4,447.1 170.8,447.6 171.2,449.0 171.6,450.1 171.9,451.1 172.3,452.2 172.7,453.6 172.9,454.3 173.2,455.6 173.5,456.7 173.7,457.4 174.0,458.3 174.3,459.8 174.7,460.4 175.0,461.4 175.3,462.8 175.6,464.0 176.0,464.8 176.3,465.6 176.7,467.2 177.1,467.7 177.5,468.9 177.8,470.3 178.2,471.1 178.5,471.9 179.0,472.7 179.5,474.4 180.0,475.1 180.5,475.8 181.0,477.2 181.6,478.4 182.3,478.7 183.0,479.8 183.7,481.0 184.5,481.4 185.3,482.1 186.2,483.2 187.0,483.6 187.9,484.6 188.9,485.1 190.1,485.5 191.0,485.5 191.9,485.3 192.9,485.7 194.3,485.6 196.0,485.6 196.7,485.6 197.3,485.5 198.0,485.4 198.7,485.9 199.3,485.5 200.1,485.3 200.9,485.8 201.8,485.5 202.7,485.6 203.9,485.3 205.1,485.2 206.6,485.3 208.2,485.6 210.0,485.2 210.7,485.7 211.4,485.3 212.2,485.7 212.9,485.2 213.8,485.4 214.6,485.2 215.5,485.2 216.3,485.4 217.2,485.3 218.2,485.5 219.1,485.2 220.1,485.3 221.1,485.3 222.1,485.8 223.1,485.2 224.1,485.4 225.2,485.7 226.2,485.6 227.3,485.3 228.4,485.9 229.5,485.3 230.6,485.3 231.6,485.2 232.8,485.5 233.9,485.8 235.0,485.4 236.1,485.4 237.2,485.8 238.3,485.3 239.4,485.3 240.5,485.7 241.6,485.3 242.7,485.6 243.8,485.4 244.8,485.7 245.9,485.9 246.9,485.6 248.0,485.4 249.0,485.7 250.0,485.7 251.0,485.3 252.0,485.4 253.0,485.5 254.1,485.6 255.1,485.4 256.1,485.7 257.2,485.4 258.2,485.8 259.3,485.4 260.3,485.3 261.4,485.2 262.4,485.2 263.5,485.3 264.5,485.7 265.6,485.4 266.6,485.4 267.7,485.7 268.7,485.7 269.8,485.6 270.8,485.2 271.9,485.2 272.9,485.3 273.9,485.2 275.0,485.2 276.0,485.1 277.0,485.1 278.0,485.4 279.0,485.3 280.0,485.2 280.9,485.2 281.9,485.3 282.8,485.3 283.8,484.8 284.7,485.4 285.6,485.1 286.5,485.0 287.4,485.4 288.3,485.2 289.2,484.9 290.0,484.7 291.3,484.9 292.5,484.9 293.7,484.8 294.9,484.6 296.0,484.9 297.2,484.6 298.3,485.0 299.3,484.8 300.4,484.6 301.4,484.9 302.5,484.6 303.5,484.3 304.5,484.4 305.4,484.2 306.4,484.4 307.4,484.7 308.3,484.7 309.3,484.5 310.2,484.1 311.1,484.1 312.1,484.0 313.0,484.1 313.9,484.2 314.9,483.8 315.8,484.0 316.8,483.9 317.9,484.1 319.0,484.1 320.0,483.8 321.1,483.8 322.1,483.5 323.1,483.6 324.2,483.7 325.2,483.2 326.2,483.5 327.2,483.4 328.2,483.1 329.2,483.1 330.2,483.4 331.2,483.0 332.1,482.8 333.1,482.8 334.1,482.9 335.1,482.8 336.1,482.7 337.0,482.6 338.0,482.4 339.0,482.6 340.0,482.6 341.1,482.1 342.1,482.4 343.3,482.1 344.4,482.5 345.6,482.4 346.7,481.8 347.9,482.1 349.1,481.8 350.3,481.5 351.4,482.0 352.6,481.9 353.7,481.8 354.8,481.6 355.8,481.8 356.8,481.4 357.8,481.4 358.7,481.3 359.5,481.4 360.3,481.4 361.0,480.9 361.7,480.8 362.2,481.0" fill="none" stroke="#00ffff" stroke-width="2.1" stroke-linejoin="round" stroke-linecap="round" clip-path="url(#cb)"/>
<polyline points="60.5,281.3 62.1,280.4 62.8,280.9 63.6,282.4 64.2,283.6 64.5,284.6 64.7,285.8 64.9,287.0 65.2,287.3 65.9,286.7 66.7,285.2 67.0,286.4 67.4,287.3 67.7,288.4 68.0,289.5 68.3,290.7 69.3,291.6 70.2,292.4 71.4,293.4 71.8,294.7 72.2,295.3 72.6,296.3 73.0,297.6 73.5,298.6 74.0,299.7 74.5,300.8 74.9,301.7 75.3,302.3 75.7,303.4 76.1,304.7 76.5,305.2 76.9,306.1 77.3,307.6 77.8,308.2 78.2,309.3 78.6,310.3 79.0,311.3 79.4,312.0 79.8,313.3 80.2,313.8 80.6,315.4 81.1,315.9 81.5,317.1 81.9,317.8 82.3,318.9 82.7,319.4 83.4,320.7 84.1,321.4 84.7,322.5 85.4,323.2 86.1,323.6 86.9,324.8 87.6,325.7 88.3,325.9 89.1,326.7 89.9,327.9 90.7,328.7 91.4,328.9 92.0,330.0 92.7,330.9 93.4,331.2 94.0,332.2 94.5,332.7 95.1,334.1 95.5,334.7 95.9,335.7 96.3,336.5 96.7,337.9 97.1,339.1 97.5,339.9 97.9,340.8 98.2,341.9 98.5,343.0 98.8,344.5 99.1,345.3 99.3,346.4 99.6,347.2 99.8,347.7 100.0,348.9 100.3,350.3 100.5,351.3 100.8,352.4 101.0,353.2 101.2,354.2 101.4,355.3 101.6,356.5 101.9,357.3 102.3,358.3 102.6,359.4 102.9,360.1 103.2,361.3 103.5,362.5 103.8,363.3 104.2,364.3 104.6,365.3 105.0,366.6 105.3,367.7 105.7,368.9 106.1,370.2 106.5,370.6 106.9,371.7 107.2,372.5 107.6,374.1 108.0,374.9 108.4,375.9 108.8,377.0 109.2,377.4 109.6,379.0 110.0,379.5 110.4,380.7 110.8,381.4 111.2,382.6 111.6,383.2 112.1,384.2 112.6,385.1 113.0,386.4 113.5,387.2 114.0,387.9 114.5,388.9 115.0,390.0 115.5,390.8 115.9,391.8 116.4,392.9 116.8,393.7 117.2,394.8 117.6,395.4 118.0,396.7 118.3,397.7 118.7,398.4 119.0,399.0 119.4,400.0 119.7,401.4 120.1,402.4 120.5,403.2 120.9,403.9 121.4,404.9 122.0,405.6 122.6,406.9 123.1,408.1 123.7,408.4 124.3,409.6 124.9,410.6 125.5,411.3 126.0,411.9 126.6,412.8 127.2,414.1 127.8,415.2 128.3,416.1 128.9,416.6 129.5,417.8 130.2,418.7 130.9,419.2 131.6,420.2 132.3,420.7 133.1,421.3 133.9,421.9 134.6,423.2 135.4,424.0 136.2,424.4 136.8,425.1 137.4,426.1 138.0,426.8 138.6,428.0 139.2,428.5 139.8,429.6 140.4,430.5 141.0,431.2 141.7,432.4 142.4,433.0 143.1,433.8 143.7,434.6 144.4,435.2 145.1,435.8 145.9,437.0 146.6,437.6 147.4,438.2 148.2,439.0 149.0,439.8 149.8,440.3 150.6,440.9 151.3,441.9 152.1,442.8 152.8,442.9 153.6,444.2 154.4,444.4 155.2,445.5 156.0,446.0 156.8,446.3 157.7,446.9 158.5,448.0 159.3,448.7 160.1,449.1 160.9,449.6 161.8,450.1 162.6,450.9 163.5,451.4 164.3,452.0 165.2,452.1 166.1,453.0 166.9,453.5 167.8,453.8 168.6,453.9 169.5,454.5 170.3,455.3 171.2,455.6 172.1,456.5 172.9,456.8 173.8,457.4 174.6,457.6 175.5,458.4 176.3,459.0 177.2,459.7 178.1,460.2 178.9,460.3 179.8,460.9 180.6,461.8 181.5,461.6 182.4,462.1 183.4,462.7 184.3,463.5 185.3,463.7 186.2,464.5 187.2,465.0 188.1,465.4 189.1,465.3 190.0,466.2 191.0,466.8 191.9,467.1 192.8,467.7 193.8,468.1 194.8,468.5 195.8,469.1 196.7,469.4 197.7,469.5 198.6,470.1 199.6,471.0 200.5,471.0 201.4,471.4 202.2,472.1 203.3,472.4 204.4,472.8 205.4,472.9 206.4,473.3 207.4,473.2 208.3,473.6 209.2,473.8 210.0,474.3 211.1,474.7 212.1,474.6 212.9,475.3 214.0,475.1 215.3,475.6 216.1,475.5 217.0,476.0 218.0,475.9 219.1,476.6 220.1,476.4 221.2,476.9 222.4,476.8 223.5,476.9 224.5,477.4 225.6,477.1 226.6,477.5 227.7,477.7 228.7,478.1 229.7,478.1 230.8,477.8 231.8,478.2 232.8,478.7 233.8,478.8 234.9,478.6 235.9,478.5 236.9,478.8 238.0,479.2 239.0,478.9 240.0,479.5 241.1,479.2 242.1,479.6 243.1,479.7 244.1,479.4 245.2,479.7 246.2,479.9 247.2,479.7 248.3,480.0 249.3,480.2 250.3,480.5 251.3,480.2 252.4,480.2 253.4,480.5 254.4,480.7 255.5,480.7 256.5,481.1 257.5,480.7 258.5,480.9 259.4,481.0 260.3,480.8 261.2,481.1 262.2,481.1 263.2,481.1 264.3,481.5 265.5,481.7 266.9,481.7 267.7,481.2 268.6,481.4 269.5,481.8 270.5,481.3 271.5,481.3 272.5,481.4 273.5,482.1 274.6,481.8 275.7,481.8 276.7,481.6 277.8,482.2 278.9,482.3 280.0,482.2 281.0,482.4 282.1,482.2 283.1,482.1 284.1,482.0 285.0,482.2 286.0,482.1 286.8,482.3 287.4,482.1 288.0,482.2 288.5,482.8 289.0,482.8 289.5,482.8 290.0,482.5 290.8,482.6 291.6,482.7 292.7,482.9 294.0,482.7 295.7,482.9 297.6,483.0 300.0,483.2 300.6,482.9 301.3,482.7 302.0,483.0 302.8,483.4 303.6,482.9 304.4,483.2 305.3,482.9 306.2,483.0 307.1,483.3 308.0,483.0 309.0,483.2 310.0,483.4 311.0,483.3 312.1,483.5 313.1,483.6 314.2,483.3 315.3,483.6 316.5,483.7 317.6,483.6 318.8,483.6 319.9,483.6 321.1,483.8 322.3,483.8 323.5,483.5 324.7,483.8 325.9,483.9 327.1,483.8 328.4,484.1 329.6,483.7 330.8,483.9 332.0,484.0 333.3,484.1 334.5,483.8 335.7,484.2 336.9,483.8 338.1,484.1 339.3,484.1 340.5,484.3 341.6,484.5 342.8,484.6 343.9,484.1 345.1,484.6 346.2,484.3 347.3,484.4 348.3,484.1 349.4,484.7 350.4,484.3 351.4,484.3 352.4,484.4 353.4,484.4 354.3,484.4 355.2,484.5 356.0,484.6 356.9,484.5 357.7,484.9 358.4,485.0 359.2,485.0 359.9,484.6 360.5,484.9 361.1,484.9 361.7,484.9 362.2,484.8" fill="none" stroke="#ff00ff" stroke-width="2.1" stroke-linejoin="round" stroke-linecap="round" clip-path="url(#cb)"/>
<polyline points="60.0,408.6 60.6,408.5 61.4,408.9 62.4,408.8 63.4,408.6 64.6,408.9 65.7,408.5 67.0,409.0 68.2,409.0 69.3,409.1 70.4,408.4 71.5,408.8 72.5,408.8 73.7,408.2 74.8,408.4 75.9,408.0 77.0,407.9 78.0,407.7 79.0,407.8 79.9,408.1 80.7,407.9 82.1,408.0 83.1,408.1 84.0,407.5 84.9,408.2 85.8,408.5 86.6,408.6 87.5,408.8 88.3,409.2 89.2,410.0 90.1,410.5 91.0,411.1 91.7,412.0 92.5,412.6 93.3,413.0 94.0,413.7 94.8,414.6 95.6,415.4 96.4,416.1 97.2,416.6 98.2,417.4 99.3,417.8 100.3,418.1 101.3,418.7 102.4,419.2 103.4,419.5 104.3,419.9 105.2,420.6 106.1,421.4 107.0,421.9 107.8,422.2 108.7,423.0 109.5,423.4 110.3,424.5 111.0,425.2 111.7,426.2 112.3,427.1 113.0,427.4 113.7,428.9 114.5,429.3 115.1,430.6 115.8,431.4 116.5,431.6 117.1,432.5 117.8,433.2 118.5,434.6 119.2,435.2 119.9,436.0 120.5,436.5 121.6,437.0 122.6,437.9 123.6,438.1 124.6,438.5 125.6,439.1 126.6,440.0 127.5,440.4 128.4,441.3 129.3,442.1 130.3,443.0 131.1,443.4 132.0,444.1 132.9,444.9 133.8,445.6 134.6,446.5 135.5,446.7 136.4,447.5 137.2,448.1 138.1,449.1 138.9,450.1 139.7,450.5 140.6,451.2 141.5,452.0 142.3,452.4 143.2,452.5 144.1,453.0 144.9,453.7 145.8,454.0 146.6,454.8 147.4,455.0 148.1,455.8 148.9,456.7 149.8,457.0 150.9,457.6 151.6,458.4 152.4,458.4 153.3,459.4 154.2,459.6 155.1,460.3 156.1,460.5 157.1,461.0 158.1,461.2 159.0,461.6 160.0,462.6 161.0,462.5 161.9,462.9 162.9,463.9 163.9,464.0 164.9,464.5 166.0,465.1 167.0,465.4 168.0,465.5 169.0,465.8 170.0,466.4 171.0,466.7 172.0,466.7 173.1,466.9 174.1,467.3 175.1,467.2 176.2,467.9 177.2,468.0 178.1,467.8 179.1,468.3 180.0,468.6 181.1,468.5 182.0,469.0 182.9,469.6 183.8,469.7 184.7,470.2 185.6,470.2 186.6,471.0 187.7,471.1 188.6,471.3 189.6,471.2 190.7,471.8 191.8,471.8 192.9,472.4 194.0,472.5 195.1,472.9 196.1,473.2 197.1,473.3 198.0,473.6 199.2,474.1 200.3,474.0 201.3,474.5 202.2,474.9 203.2,474.9 204.1,475.3 205.0,474.9 206.1,475.7 207.1,475.8 208.2,476.7 209.2,476.8 210.2,477.4 211.2,477.9 212.2,477.9 213.2,478.3 214.2,479.2 215.2,479.7 216.3,479.8 217.4,479.9 218.2,480.1 219.0,480.8 219.8,480.9 220.6,480.8 221.5,481.2 222.6,481.4 224.0,480.9 225.6,481.6 226.4,481.8 227.2,481.8 228.0,481.8 228.9,481.6 229.9,481.7 230.9,481.4 231.9,482.0 232.9,481.9 234.0,481.8 235.1,481.6 236.2,481.7 237.4,481.9 238.5,482.3 239.6,482.0 240.8,482.4 241.9,481.9 243.0,482.0 244.1,482.0 245.2,482.1 246.2,482.5 247.2,482.2 248.3,482.2 249.3,482.5 250.4,482.4 251.4,482.7 252.5,482.6 253.5,482.8 254.6,482.5 255.7,482.5 256.7,482.6 257.8,483.0 258.8,483.0 259.8,482.7 260.9,482.7 261.9,482.5 262.9,483.0 263.9,482.9 264.9,482.8 265.9,482.6 266.9,482.9 267.9,483.1 268.7,482.8 269.4,482.8 270.0,483.0 270.5,483.0 270.9,482.7 271.4,482.8 271.9,483.0 272.4,483.3 273.0,483.1 273.8,482.8 274.7,483.0 275.8,483.0 277.1,483.5 278.6,483.1 280.4,483.7 282.5,483.3 285.0,483.3 285.6,483.2 286.3,483.5 287.0,483.6 287.7,483.8 288.5,483.7 289.3,483.6 290.1,483.3 290.9,484.0 291.8,483.5 292.7,483.5 293.6,483.5 294.5,483.8 295.5,483.9 296.5,483.7 297.5,483.7 298.5,483.5 299.5,484.0 300.6,484.1 301.7,483.7 302.8,483.8 303.9,484.2 305.0,484.2 306.1,483.8 307.3,484.4 308.4,484.3 309.6,484.3 310.8,484.1 312.0,484.5 313.2,484.2 314.4,484.4 315.6,484.6 316.8,484.6 318.0,484.1 319.2,484.1 320.4,484.2 321.7,484.2 322.9,484.8 324.1,484.6 325.3,484.5 326.6,484.5 327.8,484.6 329.0,484.6 330.2,484.8 331.4,484.7 332.6,485.0 333.8,485.0 335.0,485.1 336.2,485.0 337.3,484.6 338.5,484.8 339.6,485.2 340.7,484.8 341.9,485.0 343.0,484.8 344.0,485.3 345.1,484.9 346.2,485.0 347.2,485.3 348.2,484.9 349.2,484.8 350.2,485.1 351.1,485.2 352.1,485.0 353.0,485.2 353.8,485.5 354.7,485.6 355.5,485.6 356.3,485.6 357.1,485.1 357.9,485.3 358.6,485.4 359.3,485.1 359.9,485.6 360.5,485.3 361.1,485.7 361.7,485.6 362.2,485.5" fill="none" stroke="#800000" stroke-width="2.1" stroke-linejoin="round" stroke-linecap="round" clip-path="url(#cb)"/>
<polyline points="60.0,443.8 60.6,444.0 61.4,444.3 62.4,444.4 63.5,444.6 64.7,445.2 65.9,445.3 67.1,445.5 68.3,446.0 69.3,446.0 70.3,445.8 71.5,445.5 72.6,445.9 73.8,445.5 74.9,445.3 76.0,445.7 77.0,445.7 77.9,445.2 78.6,445.4 80.1,445.6 80.8,445.4 81.7,445.7 82.4,446.0 83.2,446.5 84.0,447.8 84.9,448.5 85.8,448.7 86.9,449.6 87.7,449.6 88.6,450.3 89.5,450.3 90.4,450.7 91.4,450.8 92.5,450.7 93.8,451.3 95.1,451.6 95.9,451.3 96.9,451.5 97.8,451.8 98.9,452.3 99.9,452.6 101.0,452.4 102.2,452.9 103.3,452.9 104.4,452.8 105.5,453.0 106.6,453.5 107.6,453.3 108.6,453.5 109.5,453.8 110.7,453.5 111.8,453.8 112.9,454.0 114.0,454.1 115.0,454.3 116.0,454.1 116.9,454.3 117.9,454.4 118.9,454.2 119.9,454.8 120.9,455.0 121.9,454.8 122.9,454.7 124.0,454.8 125.0,454.9 126.0,454.9 127.0,454.9 128.0,455.4 129.0,455.1 130.0,455.1 131.0,455.5 132.0,455.2 133.1,455.6 134.1,455.9 135.1,456.2 136.2,456.0 137.2,455.9 138.2,456.7 139.3,456.2 140.3,456.6 141.3,456.8 142.4,457.3 143.4,457.0 144.4,457.1 145.5,457.3 146.5,457.5 147.5,457.5 148.5,458.1 149.6,458.0 150.6,458.3 151.6,458.1 152.7,458.5 153.7,458.8 154.7,458.4 155.8,459.0 156.8,458.7 157.8,459.1 158.8,459.3 159.9,459.1 160.9,459.5 161.9,459.2 163.0,459.3 164.0,459.7 165.0,459.5 166.1,459.2 167.1,459.3 168.1,459.7 169.1,459.6 170.2,459.4 171.2,460.0 172.2,459.7 173.3,460.2 174.3,459.9 175.3,459.8 176.3,460.0 177.4,460.4 178.4,460.5 179.4,460.3 180.5,460.1 181.5,460.4 182.5,460.3 183.5,460.5 184.5,460.3 185.5,460.4 186.5,461.2 187.5,461.2 188.6,460.9 189.6,461.3 190.8,461.0 191.9,461.6 192.8,461.6 193.8,461.7 194.8,461.6 195.8,461.7 196.9,462.0 197.9,461.7 199.0,461.6 200.0,461.7 201.1,462.4 202.1,462.0 203.1,461.9 204.1,462.3 205.0,462.0 206.1,462.3 207.2,462.6 208.3,462.3 209.3,462.4 210.3,462.8 211.3,462.8 212.3,462.8 213.3,462.3 214.3,463.0 215.3,462.7 216.3,462.5 217.4,463.2 218.4,462.6 219.4,463.3 220.5,462.7 221.5,462.8 222.5,463.1 223.5,463.3 224.6,463.3 225.6,463.5 226.6,463.1 227.7,463.6 228.7,463.3 229.7,463.8 230.8,463.6 231.8,463.7 232.8,463.3 233.8,463.9 234.9,463.5 235.9,463.5 236.9,463.7 238.0,463.9 239.0,463.6 240.0,463.8 241.1,463.9 242.1,463.6 243.1,463.6 244.1,463.8 245.2,464.0 246.2,464.0 247.2,463.7 248.3,464.1 249.3,464.2 250.3,464.2 251.3,463.9 252.4,463.8 253.4,464.5 254.4,464.4 255.5,464.1 256.5,464.5 257.5,464.4 258.6,464.5 259.7,464.3 260.8,464.6 261.8,464.4 262.9,464.5 263.9,464.5 265.0,464.9 265.9,465.1 266.9,464.8 268.1,464.7 269.2,465.0 270.3,465.5 271.3,465.5 272.4,465.4 273.3,466.2 274.2,466.1 275.1,466.1 276.3,466.9 277.3,467.1 278.2,467.8 279.1,468.2 280.0,468.7 280.9,469.3 281.8,469.6 282.7,470.6 283.5,471.1 284.4,471.9 285.1,472.3 285.9,473.3 286.6,473.6 287.3,474.9 288.1,475.2 288.8,476.1 289.7,477.2 290.5,478.0 291.4,478.8 292.2,479.2 293.1,479.6 294.2,480.9 295.3,481.0 296.4,481.9 297.5,482.0 298.4,482.4 299.3,482.8 300.3,483.1 301.9,483.6 302.7,483.6 303.5,483.4 304.4,483.8 305.4,483.7 306.5,484.4 307.5,484.1 308.6,484.3 309.7,484.6 310.8,484.6 311.9,485.1 312.9,485.1 314.0,484.9 315.1,485.0 316.2,485.3 317.3,485.2 318.3,485.3 319.4,485.1 320.5,485.3 321.6,485.3 322.7,485.5 323.8,485.2 324.7,485.5 325.6,485.2 326.3,485.2 327.1,485.2 327.9,485.7 328.7,485.2 329.6,485.3 330.6,485.5 331.8,485.7 333.2,485.7 334.8,485.3 335.6,485.5 336.4,485.8 337.3,485.4 338.2,485.4 339.2,485.9 340.3,485.4 341.4,485.5 342.6,485.6 343.7,486.0 344.9,485.7 346.1,485.8 347.4,485.9 348.6,486.2 349.8,485.6 351.0,485.7 352.2,485.9 353.4,486.1 354.5,485.8 355.6,486.0 356.6,486.1 357.6,485.8 358.6,486.0 359.5,485.8 360.3,486.4 361.0,485.8 361.6,485.9 362.2,486.2" fill="none" stroke="#008000" stroke-width="2.1" stroke-linejoin="round" stroke-linecap="round" clip-path="url(#cb)"/>
<rect x="59.8" y="273.2" width="302.2" height="213.6" fill="none" stroke="#000" stroke-width="1.5"/>
<line x1="55.5" y1="458.2" x2="59.8" y2="458.2" stroke="#000" stroke-width="1.3"/>
<text x="54.2" y="461.5" font-size="10.5" font-weight="bold" font-family='"Liberation Sans", Arial, sans-serif' text-anchor="end" stroke="#000" stroke-width="0.3">0.2</text>
<line x1="55.5" y1="411.9" x2="59.8" y2="411.9" stroke="#000" stroke-width="1.3"/>
<text x="54.2" y="415.2" font-size="10.5" font-weight="bold" font-family='"Liberation Sans", Arial, sans-serif' text-anchor="end" stroke="#000" stroke-width="0.3">0.4</text>
<line x1="55.5" y1="365.7" x2="59.8" y2="365.7" stroke="#000" stroke-width="1.3"/>
<text x="54.2" y="369.0" font-size="10.5" font-weight="bold" font-family='"Liberation Sans", Arial, sans-serif' text-anchor="end" stroke="#000" stroke-width="0.3">0.6</text>
<line x1="55.5" y1="319.4" x2="59.8" y2="319.4" stroke="#000" stroke-width="1.3"/>
<text x="54.2" y="322.8" font-size="10.5" font-weight="bold" font-family='"Liberation Sans", Arial, sans-serif' text-anchor="end" stroke="#000" stroke-width="0.3">0.8</text>
<line x1="55.5" y1="273.2" x2="59.8" y2="273.2" stroke="#000" stroke-width="1.3"/>
<text x="54.2" y="276.5" font-size="10.5" font-weight="bold" font-family='"Liberation Sans", Arial, sans-serif' text-anchor="end" stroke="#000" stroke-width="0.3">1.0</text>
<line x1="57.4" y1="481.3" x2="59.8" y2="481.3" stroke="#000" stroke-width="1.3"/>
<line x1="57.4" y1="435.1" x2="59.8" y2="435.1" stroke="#000" stroke-width="1.3"/>
<line x1="57.4" y1="388.8" x2="59.8" y2="388.8" stroke="#000" stroke-width="1.3"/>
<line x1="57.4" y1="342.6" x2="59.8" y2="342.6" stroke="#000" stroke-width="1.3"/>
<line x1="57.4" y1="296.3" x2="59.8" y2="296.3" stroke="#000" stroke-width="1.3"/>
<line x1="59.8" y1="486.8" x2="59.8" y2="491.1" stroke="#000" stroke-width="1.3"/>
<text x="59.8" y="501.3" font-size="10.5" font-weight="bold" font-family='"Liberation Sans", Arial, sans-serif' text-anchor="middle" stroke="#000" stroke-width="0.3">450</text>
<line x1="76.6" y1="486.8" x2="76.6" y2="489.2" stroke="#000" stroke-width="1.3"/>
<line x1="93.4" y1="486.8" x2="93.4" y2="491.1" stroke="#000" stroke-width="1.3"/>
<text x="93.4" y="501.3" font-size="10.5" font-weight="bold" font-family='"Liberation Sans", Arial, sans-serif' text-anchor="middle" stroke="#000" stroke-width="0.3">500</text>
<line x1="110.2" y1="486.8" x2="110.2" y2="489.2" stroke="#000" stroke-width="1.3"/>
<line x1="127.0" y1="486.8" x2="127.0" y2="491.1" stroke="#000" stroke-width="1.3"/>
<text x="127.0" y="501.3" font-size="10.5" font-weight="bold" font-family='"Liberation Sans", Arial, sans-serif' text-anchor="middle" stroke="#000" stroke-width="0.3">550</text>
<line x1="143.7" y1="486.8" x2="143.7" y2="489.2" stroke="#000" stroke-width="1.3"/>
<line x1="160.5" y1="486.8" x2="160.5" y2="491.1" stroke="#000" stroke-width="1.3"/>
<text x="160.5" y="501.3" font-size="10.5" font-weight="bold" font-family='"Liberation Sans", Arial, sans-serif' text-anchor="middle" stroke="#000" stroke-width="0.3">600</text>
<line x1="177.3" y1="486.8" x2="177.3" y2="489.2" stroke="#000" stroke-width="1.3"/>
<line x1="194.1" y1="486.8" x2="194.1" y2="491.1" stroke="#000" stroke-width="1.3"/>
<text x="194.1" y="501.3" font-size="10.5" font-weight="bold" font-family='"Liberation Sans", Arial, sans-serif' text-anchor="middle" stroke="#000" stroke-width="0.3">650</text>
<line x1="210.9" y1="486.8" x2="210.9" y2="489.2" stroke="#000" stroke-width="1.3"/>
<line x1="227.7" y1="486.8" x2="227.7" y2="491.1" stroke="#000" stroke-width="1.3"/>
<text x="227.7" y="501.3" font-size="10.5" font-weight="bold" font-family='"Liberation Sans", Arial, sans-serif' text-anchor="middle" stroke="#000" stroke-width="0.3">700</text>
<line x1="244.5" y1="486.8" x2="244.5" y2="489.2" stroke="#000" stroke-width="1.3"/>
<line x1="261.3" y1="486.8" x2="261.3" y2="491.1" stroke="#000" stroke-width="1.3"/>
<text x="261.3" y="501.3" font-size="10.5" font-weight="bold" font-family='"Liberation Sans", Arial, sans-serif' text-anchor="middle" stroke="#000" stroke-width="0.3">750</text>
<line x1="278.1" y1="486.8" x2="278.1" y2="489.2" stroke="#000" stroke-width="1.3"/>
<line x1="294.8" y1="486.8" x2="294.8" y2="491.1" stroke="#000" stroke-width="1.3"/>
<text x="294.8" y="501.3" font-size="10.5" font-weight="bold" font-family='"Liberation Sans", Arial, sans-serif' text-anchor="middle" stroke="#000" stroke-width="0.3">800</text>
<line x1="311.6" y1="486.8" x2="311.6" y2="489.2" stroke="#000" stroke-width="1.3"/>
<line x1="328.4" y1="486.8" x2="328.4" y2="491.1" stroke="#000" stroke-width="1.3"/>
<text x="328.4" y="501.3" font-size="10.5" font-weight="bold" font-family='"Liberation Sans", Arial, sans-serif' text-anchor="middle" stroke="#000" stroke-width="0.3">850</text>
<line x1="345.2" y1="486.8" x2="345.2" y2="489.2" stroke="#000" stroke-width="1.3"/>
<line x1="362.0" y1="486.8" x2="362.0" y2="491.1" stroke="#000" stroke-width="1.3"/>
<text x="362.0" y="501.3" font-size="10.5" font-weight="bold" font-family='"Liberation Sans", Arial, sans-serif' text-anchor="middle" stroke="#000" stroke-width="0.3">900</text>
<text x="215.2" y="516.6" font-size="12.5" font-weight="bold" font-family='"Liberation Sans", Arial, sans-serif' text-anchor="middle"><tspan font-style="italic" font-weight="normal" font-size="13.5">&#955;</tspan> / nm</text>
<text x="0.0" y="0.0" font-size="12.6" font-weight="bold" font-family='"Liberation Sans", Arial, sans-serif' text-anchor="middle" textLength="73.6" lengthAdjust="spacingAndGlyphs" transform="translate(27.9,383.6) rotate(-90)">Absorbance</text>
<text x="8.1" y="279.9" font-size="16.6" font-weight="bold" font-family='"Liberation Serif", "Times New Roman", serif' text-anchor="start">(b)</text>
<line x1="245.2" y1="282.8" x2="269.9" y2="282.8" stroke="#000000" stroke-width="2.2"/>
<text x="275.6" y="286.8" font-size="10.5" font-weight="bold" font-family='"Liberation Sans", Arial, sans-serif' text-anchor="start" stroke="#000" stroke-width="0.2" letter-spacing="0.45">FAPbBr<tspan font-size="10.2" letter-spacing="0.35" dy="3.7">3</tspan></text>
<line x1="245.2" y1="302.0" x2="269.9" y2="302.0" stroke="#ff0000" stroke-width="2.2"/>
<text x="275.6" y="306.0" font-size="10.5" font-weight="bold" font-family='"Liberation Sans", Arial, sans-serif' text-anchor="start" stroke="#000" stroke-width="0.2" letter-spacing="0.45">FAPbBr<tspan font-size="10.2" letter-spacing="0.35" dy="3.7">2.8</tspan><tspan font-size="11.5" letter-spacing="0" dx="-0.6" dy="-3.9">I</tspan><tspan font-size="10.2" letter-spacing="0.35" dx="-0.5" dy="3.9">0.2</tspan></text>
<line x1="245.2" y1="321.2" x2="269.9" y2="321.2" stroke="#00ff00" stroke-width="2.2"/>
<text x="275.6" y="325.2" font-size="10.5" font-weight="bold" font-family='"Liberation Sans", Arial, sans-serif' text-anchor="start" stroke="#000" stroke-width="0.2" letter-spacing="0.45">FAPbBr<tspan font-size="10.2" letter-spacing="0.35" dy="3.7">2.6</tspan><tspan font-size="11.5" letter-spacing="0" dx="-0.6" dy="-3.9">I</tspan><tspan font-size="10.2" letter-spacing="0.35" dx="-0.5" dy="3.9">0.4</tspan></text>
<line x1="245.2" y1="340.4" x2="269.9" y2="340.4" stroke="#0000ff" stroke-width="2.2"/>
<text x="275.6" y="344.4" font-size="10.5" font-weight="bold" font-family='"Liberation Sans", Arial, sans-serif' text-anchor="start" stroke="#000" stroke-width="0.2" letter-spacing="0.45">FAPbBr<tspan font-size="10.2" letter-spacing="0.35" dy="3.7">2.2</tspan><tspan font-size="11.5" letter-spacing="0" dx="-0.6" dy="-3.9">I</tspan><tspan font-size="10.2" letter-spacing="0.35" dx="-0.5" dy="3.9">0.8</tspan></text>
<line x1="245.2" y1="359.6" x2="269.9" y2="359.6" stroke="#00ffff" stroke-width="2.2"/>
<text x="275.6" y="363.6" font-size="10.5" font-weight="bold" font-family='"Liberation Sans", Arial, sans-serif' text-anchor="start" stroke="#000" stroke-width="0.2" letter-spacing="0.45">FAPbBr<tspan font-size="10.2" letter-spacing="0.35" dy="3.7">2</tspan><tspan font-size="11.5" letter-spacing="0" dx="-0.6" dy="-3.9">I</tspan><tspan font-size="10.2" letter-spacing="0.35" dx="-0.5" dy="3.9">1</tspan></text>
<line x1="245.2" y1="378.8" x2="269.9" y2="378.8" stroke="#ff00ff" stroke-width="2.2"/>
<text x="275.6" y="382.8" font-size="10.5" font-weight="bold" font-family='"Liberation Sans", Arial, sans-serif' text-anchor="start" stroke="#000" stroke-width="0.2" letter-spacing="0.45">FAPbBr<tspan font-size="10.2" letter-spacing="0.35" dy="3.7">1.6</tspan><tspan font-size="11.5" letter-spacing="0" dx="-0.6" dy="-3.9">I</tspan><tspan font-size="10.2" letter-spacing="0.35" dx="-0.5" dy="3.9">1.4</tspan></text>
<line x1="245.2" y1="398.0" x2="269.9" y2="398.0" stroke="#800000" stroke-width="2.2"/>
<text x="275.6" y="402.0" font-size="10.5" font-weight="bold" font-family='"Liberation Sans", Arial, sans-serif' text-anchor="start" stroke="#000" stroke-width="0.2" letter-spacing="0.45">FAPbBr<tspan font-size="10.2" letter-spacing="0.35" dy="3.7">1.2</tspan><tspan font-size="11.5" letter-spacing="0" dx="-0.6" dy="-3.9">I</tspan><tspan font-size="10.2" letter-spacing="0.35" dx="-0.5" dy="3.9">1.8</tspan></text>
<line x1="245.2" y1="417.2" x2="269.9" y2="417.2" stroke="#008000" stroke-width="2.2"/>
<text x="275.6" y="421.2" font-size="10.5" font-weight="bold" font-family='"Liberation Sans", Arial, sans-serif' text-anchor="start" stroke="#000" stroke-width="0.2" letter-spacing="0.45">FAPbI<tspan font-size="10.2" letter-spacing="0.35" dy="3.7">3</tspan></text>
<polyline points="60.0,719.0 60.5,719.0 61.0,719.0 61.6,719.0 62.1,719.0 62.7,719.0 63.3,719.0 63.9,719.0 64.5,719.0 65.1,719.0 65.7,719.0 66.4,719.0 67.0,719.0 67.7,719.0 68.4,719.0 69.1,719.0 69.8,719.0 70.5,719.0 71.3,719.0 72.0,719.0 72.8,719.0 73.6,719.0 74.3,718.9 75.1,718.9 75.9,718.9 76.8,718.9 77.6,718.9 78.4,718.9 79.3,718.9 80.2,718.9 81.0,718.9 81.9,718.9 82.8,718.9 83.7,718.9 84.6,718.9 85.5,718.9 86.5,718.9 87.4,718.9 88.4,718.9 89.3,718.9 90.3,718.9 91.3,718.9 92.3,718.9 93.3,718.9 94.3,718.9 95.3,718.9 96.3,718.9 97.3,718.9 98.4,718.9 99.4,718.9 100.5,718.9 101.5,718.9 102.6,718.9 103.7,718.8 104.8,718.8 105.8,718.8 106.9,718.8 108.0,718.8 109.1,718.8 110.2,718.8 111.4,718.8 112.5,718.8 113.6,718.8 114.8,718.8 115.9,718.8 117.0,718.8 118.2,718.8 119.3,718.8 120.5,718.8 121.7,718.8 122.8,718.8 124.0,718.8 125.2,718.8 126.4,718.8 127.6,718.8 128.7,718.8 129.9,718.8 131.1,718.8 132.3,718.8 133.5,718.7 134.7,718.7 135.9,718.7 137.1,718.7 138.4,718.7 139.6,718.7 140.8,718.7 142.0,718.7 143.2,718.7 144.5,718.7 145.7,718.7 146.9,718.7 148.1,718.7 149.4,718.7 150.6,718.7 151.8,718.7 153.0,718.7 154.3,718.7 155.5,718.7 156.7,718.7 158.0,718.7 159.2,718.7 160.4,718.7 161.6,718.7 162.9,718.6 164.1,718.6 165.3,718.6 166.6,718.6 167.8,718.6 169.0,718.6 170.2,718.6 171.4,718.6 172.7,718.6 173.9,718.6 175.1,718.6 176.3,718.6 177.5,718.6 178.7,718.6 179.9,718.6 181.1,718.6 182.3,718.6 183.5,718.6 184.7,718.6 185.9,718.6 187.1,718.6 188.3,718.6 189.4,718.6 190.6,718.5 191.8,718.5 192.9,718.5 194.1,718.5 195.2,718.5 196.4,718.5 197.5,718.5 198.7,718.5 199.8,718.5 200.9,718.5 202.1,718.5 203.2,718.5 204.3,718.5 205.4,718.5 206.5,718.5 207.6,718.5 208.7,718.5 209.7,718.5 210.8,718.5 211.9,718.5 212.9,718.5 214.0,718.5 215.0,718.5 216.1,718.5 217.1,718.4 218.1,718.4 219.1,718.4 220.1,718.4 221.1,718.4 222.1,718.4 223.1,718.4 224.0,718.4 225.0,718.4 225.9,718.4 226.9,718.4 227.8,718.4 228.7,718.4 229.6,718.4 230.5,718.4 231.4,718.4 232.3,718.4 233.2,718.4 234.1,718.4 234.9,718.4 235.7,718.4 236.6,718.4 237.4,718.4 238.2,718.4 239.0,718.4 239.8,718.4 240.5,718.3 241.3,718.3 242.0,718.3 242.8,718.3 243.5,718.3 244.2,718.3 244.9,718.3 245.6,718.3 246.3,718.3 246.9,718.3 247.6,718.3 248.2,718.3 248.8,718.3 249.4,718.3 250.0,718.3 253.4,718.3 256.5,718.3 259.4,718.3 262.0,718.2 264.3,718.2 266.4,718.2 268.3,718.2 269.9,718.2 271.4,718.2 272.7,718.2 273.8,718.2 274.7,718.2 275.5,718.2 276.2,718.2 276.8,718.1 277.2,718.1 277.6,718.1 277.9,718.1 278.1,718.1 278.3,718.1 278.5,718.1 278.7,718.1 278.8,718.0 278.9,718.0 279.1,718.0 279.3,718.0 279.6,717.9 279.9,717.9 280.3,717.9 280.8,717.8 281.4,717.8 283.4,717.6 285.0,717.5 286.3,717.3 287.3,717.1 288.1,716.8 288.7,716.6 289.3,716.3 289.9,716.0 290.6,715.7 291.8,715.0 292.7,714.3 293.5,713.5 294.3,712.6 295.0,711.8 295.8,711.0 296.4,710.3 297.1,709.5 297.8,708.6 298.5,707.5 299.0,706.8 299.4,706.0 299.9,705.2 300.4,704.4 300.9,703.5 301.4,702.5 301.9,701.3 302.4,700.0 302.7,699.2 303.0,698.4 303.2,697.5 303.5,696.5 303.8,695.6 304.1,694.5 304.4,693.5 304.7,692.4 305.0,691.4 305.3,690.3 305.6,689.3 305.8,688.2 306.1,687.2 306.4,686.2 306.6,685.3 306.9,684.3 307.1,683.2 307.4,682.2 307.7,681.2 307.9,680.2 308.2,679.2 308.4,678.2 308.6,677.2 308.9,676.3 309.1,675.3 309.3,674.4 309.5,673.5 309.7,672.6 309.9,671.4 310.2,670.3 310.4,669.1 310.6,668.0 310.8,666.9 311.0,665.8 311.2,664.8 311.4,663.8 311.6,662.9 311.8,662.1 312.3,660.7 312.7,659.6 313.2,658.6 313.8,657.7 314.5,656.8 315.2,656.0 315.9,655.2 316.8,654.4 317.7,653.7 318.7,653.0 319.8,652.5 320.7,652.2 321.7,652.0 322.7,651.9 323.8,651.9 324.9,651.8 326.1,651.8 327.3,651.7 328.5,651.5 329.4,651.4 330.3,651.2 331.3,651.0 332.3,650.9 333.3,650.7 334.3,650.5 335.3,650.3 336.3,650.1 337.3,649.9 338.3,649.6 339.3,649.4 340.3,649.1 341.3,648.8 342.2,648.5 343.2,648.2 344.2,647.9 345.2,647.5 346.2,647.2 347.1,646.9 348.1,646.5 349.1,646.2 350.1,645.9 351.1,645.6 352.0,645.3 353.0,645.1 354.0,644.8 354.9,644.6 355.9,644.3 356.9,644.0 357.9,643.8 358.9,643.5 359.9,643.2 361.0,642.9 362.0,642.6 363.0,642.3 364.1,642.0 365.2,641.7 366.3,641.3 367.4,641.0 368.5,640.6 369.6,640.3 370.6,640.0 371.6,639.7 372.5,639.4 373.2,639.2 373.9,639.0 376.0,638.5 376.5,638.5" fill="none" stroke="#000000" stroke-width="5.0" stroke-linejoin="round" stroke-linecap="round" clip-path="url(#cc)"/>
<polyline points="60.0,718.8 60.5,718.8 61.0,718.8 61.6,718.8 62.2,718.8 62.8,718.8 63.4,718.8 64.0,718.8 64.7,718.8 65.3,718.8 66.0,718.8 66.7,718.8 67.4,718.8 68.2,718.8 68.9,718.8 69.7,718.8 70.5,718.8 71.3,718.8 72.1,718.8 73.0,718.8 73.8,718.8 74.7,718.8 75.6,718.8 76.5,718.8 77.4,718.8 78.3,718.8 79.2,718.8 80.2,718.8 81.1,718.8 82.1,718.9 83.1,718.9 84.1,718.9 85.1,718.9 86.1,718.9 87.1,718.9 88.2,718.9 89.2,718.9 90.3,718.9 91.4,718.9 92.4,718.9 93.5,718.9 94.6,718.9 95.7,718.9 96.8,718.9 97.9,718.9 99.1,718.9 100.2,718.9 101.3,718.9 102.5,718.9 103.6,718.9 104.8,718.9 105.9,718.9 107.1,718.9 108.3,718.9 109.5,718.9 110.6,718.9 111.8,718.9 113.0,718.9 114.2,718.9 115.4,718.9 116.6,718.9 117.8,718.9 119.0,718.9 120.1,719.0 121.3,719.0 122.5,719.0 123.7,719.0 124.9,719.0 126.1,719.0 127.3,719.0 128.5,719.0 129.7,719.0 130.9,719.0 132.1,719.0 133.3,719.0 134.5,719.0 135.7,719.0 136.9,719.0 138.0,719.0 139.2,719.0 140.4,719.0 141.5,719.0 142.7,719.0 143.8,719.0 145.0,719.0 146.1,719.0 147.3,719.0 148.4,719.0 149.5,719.0 150.6,719.0 151.8,719.0 152.9,719.0 154.0,719.0 155.0,719.0 156.1,719.0 157.2,719.0 158.2,718.9 159.3,718.9 160.3,718.9 161.4,718.9 162.4,718.9 163.4,718.9 164.4,718.9 165.4,718.9 166.3,718.9 167.3,718.9 168.2,718.9 169.2,718.9 170.1,718.9 171.0,718.9 171.9,718.9 172.8,718.9 173.6,718.9 174.5,718.9 175.3,718.9 176.1,718.8 176.9,718.8 177.7,718.8 178.5,718.8 179.3,718.8 180.0,718.8 181.6,718.8 183.1,718.8 184.6,718.7 186.1,718.7 187.6,718.7 189.0,718.6 190.4,718.6 191.7,718.6 193.1,718.5 194.4,718.5 195.7,718.5 196.9,718.4 198.2,718.4 199.4,718.4 200.5,718.3 201.7,718.3 202.8,718.2 204.0,718.2 205.1,718.1 206.1,718.1 207.2,718.1 208.2,718.0 209.2,718.0 210.2,717.9 211.2,717.9 212.1,717.8 213.1,717.8 214.0,717.7 214.9,717.7 215.8,717.6 216.7,717.6 217.6,717.5 218.4,717.5 219.2,717.4 220.1,717.4 220.9,717.3 221.7,717.3 222.5,717.2 223.3,717.2 224.1,717.1 224.8,717.1 225.6,717.0 226.3,717.0 227.1,717.0 227.8,716.9 228.5,716.9 229.3,716.8 230.0,716.8 230.7,716.7 231.4,716.7 232.2,716.7 232.9,716.6 233.6,716.6 234.3,716.5 235.0,716.5 236.6,716.4 238.2,716.3 239.7,716.3 241.0,716.2 242.3,716.1 243.5,716.0 244.7,716.0 245.7,715.9 246.7,715.8 247.7,715.8 248.6,715.7 249.5,715.6 250.4,715.6 251.2,715.5 252.0,715.4 252.7,715.4 253.5,715.3 254.3,715.2 255.0,715.2 255.8,715.1 256.6,715.0 257.4,715.0 258.2,714.9 259.5,714.8 260.7,714.7 261.9,714.6 263.0,714.5 264.1,714.4 265.1,714.3 266.2,714.2 267.2,714.2 268.1,714.1 269.1,714.0 270.0,713.9 270.9,713.8 271.8,713.6 272.7,713.5 273.6,713.4 274.8,713.2 275.9,713.0 277.0,712.8 278.1,712.7 279.1,712.4 280.1,712.2 281.1,712.0 282.0,711.8 282.9,711.5 283.7,711.3 284.5,711.0 285.6,710.6 286.7,710.1 287.6,709.7 288.4,709.2 289.2,708.6 289.9,708.0 290.6,707.2 291.1,706.4 291.6,705.6 292.0,704.7 292.4,703.7 292.8,702.7 293.1,701.6 293.4,700.6 293.7,699.5 294.0,698.5 294.2,697.5 294.4,696.4 294.6,695.4 294.8,694.3 294.9,693.2 295.1,692.1 295.3,691.0 295.5,690.0 295.7,689.0 295.9,688.0 296.1,686.9 296.3,685.9 296.5,684.9 296.7,683.9 296.9,683.0 297.1,682.0 297.3,681.0 297.5,679.9 297.8,678.9 298.0,677.9 298.2,676.9 298.5,675.9 298.7,674.8 299.0,673.7 299.2,672.6 299.4,671.6 299.6,670.6 299.8,669.5 300.0,668.3 300.2,667.2 300.4,666.1 300.6,665.0 300.8,664.0 301.0,663.0 301.3,662.1 301.7,660.9 302.1,659.9 302.5,658.9 303.0,658.0 303.5,657.2 304.0,656.4 304.5,655.8 305.4,655.0 306.4,654.5 307.5,654.2 308.7,653.9 309.6,653.8 310.6,653.7 311.7,653.8 312.8,653.8 313.9,653.8 315.0,653.7 315.9,653.6 316.9,653.5 317.9,653.3 318.9,653.2 319.9,653.0 320.9,652.7 322.0,652.5 323.0,652.3 324.0,652.0 325.1,651.7 326.2,651.4 327.3,651.0 328.4,650.7 329.5,650.3 330.6,650.0 331.6,649.7 332.5,649.4 333.5,649.1 334.5,648.8 335.4,648.5 336.4,648.1 337.4,647.8 338.3,647.5 339.3,647.2 340.3,646.9 341.2,646.6 342.2,646.3 343.2,646.0 344.1,645.7 345.1,645.4 346.1,645.1 347.0,644.7 348.0,644.4 349.0,644.1 349.9,643.7 350.9,643.3 351.8,643.0 352.8,642.6 353.7,642.2 354.7,641.8 355.6,641.5 356.6,641.1 357.6,640.7 358.5,640.4 359.5,640.0 360.5,639.6 361.4,639.2 362.4,638.9 363.4,638.5 364.3,638.2 365.3,637.9 366.4,637.6 367.6,637.2 368.8,636.9 370.0,636.6 371.1,636.4 372.2,636.1 373.1,635.9 373.9,635.7 375.7,635.2 376.5,635.0" fill="none" stroke="#ff0000" stroke-width="5.0" stroke-linejoin="round" stroke-linecap="round" clip-path="url(#cc)"/>
<polyline points="60.0,718.2 60.5,718.2 61.0,718.2 61.6,718.2 62.1,718.2 62.7,718.1 63.3,718.1 63.9,718.1 64.6,718.1 65.2,718.1 65.9,718.1 66.6,718.1 67.2,718.1 68.0,718.0 68.7,718.0 69.4,718.0 70.2,718.0 70.9,718.0 71.7,718.0 72.5,718.0 73.3,717.9 74.2,717.9 75.0,717.9 75.9,717.9 76.7,717.9 77.6,717.9 78.5,717.9 79.4,717.8 80.3,717.8 81.2,717.8 82.2,717.8 83.1,717.8 84.1,717.8 85.1,717.7 86.0,717.7 87.0,717.7 88.0,717.7 89.1,717.7 90.1,717.6 91.1,717.6 92.2,717.6 93.2,717.6 94.3,717.6 95.3,717.6 96.4,717.5 97.5,717.5 98.6,717.5 99.7,717.5 100.8,717.5 101.9,717.4 103.1,717.4 104.2,717.4 105.3,717.4 106.5,717.4 107.6,717.3 108.8,717.3 110.0,717.3 111.1,717.3 112.3,717.2 113.5,717.2 114.7,717.2 115.9,717.2 117.1,717.2 118.3,717.1 119.5,717.1 120.7,717.1 121.9,717.1 123.1,717.1 124.3,717.0 125.5,717.0 126.8,717.0 128.0,717.0 129.2,716.9 130.5,716.9 131.7,716.9 132.9,716.9 134.2,716.9 135.4,716.8 136.6,716.8 137.9,716.8 139.1,716.8 140.4,716.7 141.6,716.7 142.8,716.7 144.1,716.7 145.3,716.6 146.6,716.6 147.8,716.6 149.0,716.6 150.3,716.6 151.5,716.5 152.7,716.5 154.0,716.5 155.2,716.5 156.4,716.4 157.6,716.4 158.9,716.4 160.1,716.4 161.3,716.3 162.5,716.3 163.7,716.3 164.9,716.3 166.1,716.2 167.3,716.2 168.5,716.2 169.7,716.2 170.9,716.2 172.0,716.1 173.2,716.1 174.4,716.1 175.5,716.1 176.7,716.0 177.8,716.0 178.9,716.0 180.1,716.0 181.2,715.9 182.3,715.9 183.4,715.9 184.5,715.9 185.6,715.9 186.7,715.8 187.8,715.8 188.8,715.8 189.9,715.8 190.9,715.7 192.0,715.7 193.0,715.7 194.0,715.7 195.0,715.7 196.0,715.6 197.0,715.6 198.0,715.6 198.9,715.6 199.9,715.5 200.8,715.5 201.8,715.5 202.7,715.5 203.6,715.5 204.5,715.4 205.4,715.4 206.3,715.4 207.1,715.4 208.0,715.4 208.8,715.3 209.6,715.3 210.4,715.3 211.2,715.3 212.0,715.3 212.7,715.2 213.5,715.2 214.2,715.2 214.9,715.2 215.6,715.2 216.3,715.1 217.0,715.1 217.6,715.1 218.3,715.1 218.9,715.1 219.5,715.1 220.1,715.0 220.6,715.0 221.2,715.0 226.7,714.8 230.9,714.6 233.9,714.4 235.8,714.2 236.9,714.1 237.3,713.9 237.2,713.7 236.7,713.5 236.0,713.4 235.2,713.2 234.6,713.0 234.2,712.9 234.3,712.7 235.0,712.6 236.0,712.5 237.0,712.3 238.0,712.2 239.0,712.1 240.0,712.0 241.1,711.9 242.1,711.8 243.2,711.7 244.2,711.6 245.3,711.5 246.3,711.4 247.4,711.3 248.4,711.2 249.5,711.1 250.5,711.0 251.5,710.9 252.6,710.8 253.7,710.7 254.8,710.6 255.9,710.5 257.0,710.4 258.0,710.3 259.1,710.2 260.2,710.2 261.2,710.1 262.2,710.0 263.2,709.8 264.2,709.7 265.1,709.6 265.9,709.5 267.2,709.3 268.5,709.1 269.6,708.9 270.7,708.7 271.7,708.4 272.7,708.2 273.6,707.9 274.4,707.6 275.2,707.2 276.3,706.6 277.1,706.0 277.9,705.2 278.6,704.5 279.2,703.6 279.8,702.6 280.3,701.8 280.7,700.9 281.1,700.0 281.5,699.0 281.9,698.0 282.3,696.9 282.6,695.9 282.9,694.8 283.1,693.8 283.3,692.9 283.5,691.9 283.7,690.8 283.8,689.8 284.0,688.7 284.1,687.7 284.3,686.6 284.5,685.5 284.7,684.5 284.9,683.5 285.1,682.4 285.4,681.4 285.6,680.3 285.8,679.2 286.1,678.2 286.3,677.1 286.6,676.0 286.8,675.0 287.1,674.0 287.3,673.0 287.6,671.9 287.9,670.9 288.1,669.9 288.4,668.9 288.7,667.9 289.0,667.0 289.2,666.0 289.5,665.0 289.8,663.9 290.1,662.8 290.3,661.8 290.6,660.7 290.9,659.6 291.2,658.6 291.4,657.5 291.7,656.5 292.0,655.5 292.3,654.4 292.6,653.3 292.9,652.3 293.2,651.2 293.6,650.2 293.9,649.1 294.2,648.1 294.5,647.0 294.8,646.0 295.0,645.0 295.3,644.0 295.6,643.0 295.9,642.0 296.1,640.9 296.4,639.9 296.7,639.0 297.0,638.0 297.3,636.9 297.7,635.9 298.1,634.9 298.4,633.8 298.8,632.8 299.2,631.9 299.5,630.9 299.9,630.0 300.3,629.0 300.7,627.9 301.0,626.9 301.4,625.9 301.8,625.0 302.1,624.2 302.5,623.5 303.3,622.5 304.1,621.9 305.1,621.5 305.9,621.2 306.8,620.9 307.8,620.7 309.0,620.5 309.8,620.4 310.7,620.2 311.7,620.1 312.7,619.9 313.8,619.8 314.8,619.6 315.9,619.3 316.8,619.0 317.8,618.7 318.8,618.4 319.8,618.0 320.7,617.6 321.7,617.2 322.7,616.8 323.7,616.4 324.7,616.0 325.6,615.5 326.6,615.1 327.6,614.6 328.5,614.1 329.5,613.6 330.4,613.1 331.4,612.6 332.3,612.1 333.1,611.6 334.0,611.0 334.9,610.5 335.8,609.9 336.7,609.4 337.5,608.9 338.3,608.4 339.1,607.9 340.1,607.3 341.0,606.9 341.8,606.5 342.6,606.0 343.7,605.5 345.0,604.8 345.7,604.4 346.6,604.0 347.4,603.6 348.4,603.1 349.4,602.7 350.4,602.2 351.4,601.7 352.4,601.1 353.5,600.6 354.5,600.0 355.5,599.5 356.4,598.9 357.3,598.3 358.2,597.7 359.0,597.0 359.8,596.4 360.7,595.7 361.5,595.0 362.3,594.3 363.1,593.6 363.8,592.8 364.6,592.1 365.4,591.4 366.1,590.7 366.9,590.0 367.6,589.3 368.4,588.6 369.3,587.8 370.1,587.0 371.0,586.2 371.9,585.4 372.7,584.6 373.5,583.8 374.2,583.1 374.9,582.5 375.5,581.9 376.1,581.4 376.5,581.0" fill="none" stroke="#00ff00" stroke-width="5.0" stroke-linejoin="round" stroke-linecap="round" clip-path="url(#cc)"/>
<polyline points="60.0,718.6 60.5,718.6 61.1,718.6 61.6,718.6 62.3,718.6 62.9,718.6 63.6,718.6 64.3,718.6 65.0,718.6 65.8,718.6 66.5,718.5 67.4,718.5 68.2,718.5 69.0,718.5 69.9,718.5 70.8,718.5 71.8,718.5 72.7,718.5 73.7,718.5 74.7,718.5 75.7,718.5 76.7,718.5 77.7,718.5 78.8,718.5 79.9,718.5 80.9,718.5 82.0,718.5 83.1,718.4 84.3,718.4 85.4,718.4 86.6,718.4 87.7,718.4 88.9,718.4 90.1,718.4 91.2,718.4 92.4,718.4 93.6,718.4 94.8,718.4 96.0,718.4 97.2,718.4 98.4,718.3 99.6,718.3 100.9,718.3 102.1,718.3 103.3,718.3 104.5,718.3 105.7,718.3 106.9,718.3 108.1,718.3 109.3,718.3 110.5,718.2 111.7,718.2 112.9,718.2 114.1,718.2 115.2,718.2 116.4,718.2 117.5,718.2 118.7,718.2 119.8,718.2 120.9,718.1 122.0,718.1 123.1,718.1 124.1,718.1 125.2,718.1 126.2,718.1 127.3,718.1 128.3,718.0 129.2,718.0 130.2,718.0 131.2,718.0 132.1,718.0 133.0,718.0 133.9,717.9 134.7,717.9 135.6,717.9 136.4,717.9 137.1,717.9 137.9,717.9 138.6,717.8 139.3,717.8 140.0,717.8 142.0,717.7 143.9,717.7 145.6,717.6 147.2,717.5 148.7,717.4 150.0,717.3 151.3,717.3 152.4,717.2 153.5,717.1 154.4,717.0 155.3,716.9 156.2,716.8 156.9,716.7 157.7,716.6 158.4,716.5 159.0,716.4 159.7,716.3 160.3,716.2 160.9,716.1 161.5,716.0 162.2,715.9 162.8,715.8 163.5,715.7 164.2,715.6 165.0,715.5 166.3,715.4 167.5,715.2 168.6,715.1 169.6,715.0 170.5,714.8 171.5,714.7 172.3,714.6 173.2,714.5 174.1,714.3 175.0,714.2 175.9,714.1 176.8,713.9 177.8,713.8 178.9,713.7 180.0,713.5 180.9,713.4 181.8,713.2 182.8,713.1 183.8,713.0 184.8,712.8 185.8,712.7 186.8,712.5 187.8,712.4 188.9,712.2 190.0,712.1 191.0,711.9 192.1,711.8 193.2,711.6 194.2,711.5 195.3,711.3 196.4,711.2 197.5,711.1 198.5,710.9 199.6,710.8 200.6,710.7 201.6,710.6 202.7,710.5 203.8,710.4 204.8,710.3 205.9,710.2 207.0,710.1 208.1,710.0 209.2,709.9 210.2,709.8 211.3,709.7 212.4,709.6 213.4,709.5 214.5,709.4 215.5,709.3 216.5,709.3 217.5,709.2 218.5,709.1 219.4,709.0 220.3,709.0 221.2,708.9 222.5,708.8 223.8,708.7 225.0,708.6 226.1,708.6 227.3,708.5 228.4,708.4 229.4,708.4 230.4,708.3 231.4,708.2 232.4,708.2 233.3,708.1 234.2,708.1 235.0,708.0 236.4,707.9 237.6,707.8 238.7,707.7 239.7,707.6 240.7,707.5 241.6,707.4 242.7,707.2 243.7,707.0 244.6,706.8 245.6,706.5 246.6,706.2 247.6,705.9 248.6,705.6 249.5,705.3 250.5,704.9 251.5,704.5 252.5,704.1 253.5,703.7 254.4,703.2 255.4,702.7 256.4,702.2 257.3,701.6 258.2,701.0 259.1,700.3 259.9,699.6 260.8,698.9 261.6,698.1 262.4,697.3 263.1,696.5 263.8,695.7 264.4,694.8 264.9,693.9 265.4,693.1 265.8,692.2 266.2,691.2 266.5,690.3 266.9,689.3 267.2,688.2 267.5,687.1 267.7,686.2 268.0,685.3 268.2,684.4 268.4,683.4 268.6,682.4 268.8,681.4 269.0,680.4 269.2,679.3 269.4,678.3 269.6,677.3 269.8,676.3 270.0,675.3 270.2,674.3 270.4,673.3 270.6,672.3 270.8,671.3 271.1,670.3 271.3,669.3 271.5,668.3 271.7,667.4 271.9,666.4 272.1,665.5 272.4,664.4 272.6,663.3 272.9,662.2 273.1,661.2 273.4,660.2 273.7,659.2 273.9,658.2 274.2,657.2 274.4,656.2 274.6,655.2 274.9,654.2 275.1,653.3 275.3,652.4 275.5,651.5 275.7,650.5 275.9,649.3 276.2,648.0 276.4,647.1 276.5,646.2 276.7,645.2 276.9,644.2 277.1,643.1 277.3,642.0 277.5,640.9 277.7,639.8 277.9,638.6 278.1,637.5 278.4,636.4 278.6,635.3 278.8,634.3 279.0,633.3 279.2,632.2 279.5,631.1 279.7,630.0 280.0,628.9 280.2,627.9 280.4,626.9 280.7,625.8 280.9,624.8 281.2,623.8 281.5,622.8 281.8,621.9 282.1,620.9 282.5,619.8 282.9,618.8 283.3,617.8 283.7,616.7 284.2,615.7 284.6,614.7 285.1,613.7 285.5,612.8 285.9,611.9 286.3,611.0 286.7,610.1 287.1,609.0 287.5,607.9 287.9,606.9 288.2,606.0 288.6,605.0 288.9,604.1 289.3,603.3 289.8,602.4 290.4,601.4 291.1,600.4 291.8,599.5 292.5,598.5 293.2,597.7 293.9,596.9 294.5,596.2 295.3,595.3 295.9,594.6 296.6,594.0 297.7,593.4 298.5,593.1 299.3,592.8 300.3,592.5 301.3,592.2 302.4,591.9 303.4,591.6 304.5,591.3 305.5,591.0 306.5,590.7 307.4,590.3 308.4,590.0 309.4,589.6 310.3,589.2 311.3,588.8 312.2,588.4 313.2,588.0 314.2,587.6 315.1,587.1 316.1,586.6 317.0,586.2 318.0,585.7 319.0,585.1 319.9,584.6 320.9,584.1 321.9,583.6 322.8,583.1 323.8,582.5 324.7,582.0 325.7,581.4 326.7,580.8 327.6,580.2 328.6,579.5 329.4,578.9 330.2,578.3 331.0,577.6 331.8,576.9 332.6,576.1 333.4,575.4 334.2,574.7 334.9,573.9 335.7,573.2 336.4,572.5 337.2,571.7 337.9,570.9 338.5,570.1 339.2,569.3 339.8,568.5 340.5,567.8 341.2,567.0 341.9,566.2 342.6,565.5 343.4,564.8 344.2,564.1 345.0,563.4 345.9,562.8 346.7,562.1 347.6,561.5 348.4,560.8 349.2,560.1 350.0,559.4 350.7,558.7 351.4,558.0 352.0,557.2 352.7,556.5 353.3,555.7 353.9,554.9 354.6,554.1 355.3,553.2 356.1,552.2 356.6,551.5 357.2,550.8 357.9,550.0 358.5,549.2 359.1,548.3 359.8,547.5 360.5,546.6 361.2,545.7 361.8,544.9 362.5,544.0 363.1,543.2 363.7,542.4 364.3,541.7 364.8,541.0 365.6,540.0 366.3,539.1 367.0,538.2 367.6,537.4 368.2,536.6 368.8,535.8 369.3,535.1 369.8,534.3 370.3,533.6 370.9,532.5 371.5,531.4 372.0,530.3 372.4,529.4 372.7,528.6 373.0,528.0" fill="none" stroke="#0000ff" stroke-width="5.0" stroke-linejoin="round" stroke-linecap="round" clip-path="url(#cc)"/>
<polyline points="60.0,716.5 60.5,716.5 61.0,716.5 61.6,716.5 62.2,716.5 62.8,716.5 63.4,716.5 64.0,716.5 64.7,716.5 65.4,716.5 66.0,716.5 66.8,716.5 67.5,716.6 68.2,716.6 69.0,716.6 69.8,716.6 70.6,716.6 71.4,716.6 72.3,716.6 73.1,716.6 74.0,716.6 74.8,716.6 75.7,716.6 76.7,716.6 77.6,716.6 78.5,716.6 79.5,716.7 80.4,716.7 81.4,716.7 82.4,716.7 83.4,716.7 84.4,716.7 85.5,716.7 86.5,716.7 87.5,716.7 88.6,716.7 89.7,716.7 90.7,716.8 91.8,716.8 92.9,716.8 94.0,716.8 95.1,716.8 96.3,716.8 97.4,716.8 98.5,716.8 99.7,716.8 100.8,716.8 102.0,716.9 103.1,716.9 104.3,716.9 105.5,716.9 106.7,716.9 107.8,716.9 109.0,716.9 110.2,716.9 111.4,716.9 112.6,716.9 113.8,717.0 115.0,717.0 116.2,717.0 117.4,717.0 118.6,717.0 119.8,717.0 121.1,717.0 122.3,717.0 123.5,717.0 124.7,717.0 125.9,717.0 127.1,717.1 128.3,717.1 129.5,717.1 130.7,717.1 131.9,717.1 133.1,717.1 134.3,717.1 135.5,717.1 136.7,717.1 137.9,717.1 139.0,717.1 140.2,717.1 141.4,717.1 142.6,717.1 143.7,717.1 144.9,717.2 146.0,717.2 147.2,717.2 148.3,717.2 149.4,717.2 150.5,717.2 151.6,717.2 152.7,717.2 153.8,717.2 154.9,717.2 156.0,717.2 157.0,717.2 158.1,717.2 159.1,717.2 160.2,717.2 161.2,717.2 162.2,717.2 163.2,717.2 164.2,717.2 165.1,717.2 166.1,717.2 167.0,717.2 168.0,717.2 168.9,717.2 169.8,717.2 170.7,717.2 171.5,717.2 172.4,717.2 173.2,717.2 174.0,717.2 174.8,717.2 175.6,717.1 176.4,717.1 177.2,717.1 177.9,717.1 178.6,717.1 179.3,717.1 180.0,717.1 181.9,717.1 183.8,717.0 185.6,717.0 187.3,717.0 188.9,716.9 190.5,716.9 192.0,716.8 193.4,716.8 194.8,716.7 196.2,716.7 197.4,716.6 198.7,716.5 199.8,716.5 201.0,716.4 202.0,716.3 203.1,716.3 204.1,716.2 205.0,716.1 205.9,716.0 206.8,716.0 207.7,715.9 208.5,715.8 209.3,715.7 210.0,715.6 210.8,715.6 211.5,715.5 212.2,715.4 212.9,715.3 213.5,715.2 214.2,715.1 214.8,715.1 215.5,715.0 216.1,714.9 216.7,714.8 217.4,714.7 218.0,714.6 218.6,714.5 219.2,714.5 219.9,714.4 220.5,714.3 221.2,714.2 223.1,714.0 224.7,713.7 226.1,713.4 227.4,713.2 228.5,712.9 229.5,712.6 230.4,712.4 231.2,712.1 231.9,711.8 232.5,711.5 233.1,711.2 233.8,710.9 234.4,710.6 235.0,710.3 236.3,709.6 237.2,709.0 237.9,708.3 238.5,707.5 239.0,706.7 239.6,705.6 240.1,704.8 240.5,703.9 241.0,703.0 241.5,702.0 241.9,701.0 242.3,699.9 242.8,698.7 243.1,697.6 243.5,696.4 243.7,695.5 244.0,694.5 244.2,693.5 244.4,692.4 244.6,691.4 244.8,690.3 244.9,689.2 245.1,688.1 245.3,687.1 245.4,686.0 245.6,685.0 245.8,684.0 246.0,683.0 246.2,681.9 246.4,680.9 246.6,679.9 246.8,678.9 247.0,677.9 247.3,676.9 247.5,676.0 247.7,675.0 247.9,674.1 248.1,673.2 248.4,672.1 248.6,671.0 248.9,669.9 249.1,668.9 249.4,667.9 249.7,666.8 249.9,665.9 250.2,664.9 250.5,664.0 250.9,662.9 251.3,661.9 251.7,660.9 252.1,660.0 252.6,659.0 253.0,658.0 253.5,657.0 253.9,656.1 254.3,655.3 254.7,654.4 255.1,653.5 255.6,652.6 256.0,651.7 256.5,650.7 256.9,649.7 257.4,648.7 257.8,647.8 258.2,646.9 258.5,645.9 258.9,644.9 259.3,643.9 259.7,642.8 260.1,641.8 260.5,640.8 261.0,639.8 261.5,638.8 262.0,637.9 262.5,637.1 263.1,636.2 263.7,635.4 264.3,634.6 265.0,633.8 265.6,633.1 266.3,632.3 267.0,631.5 267.7,630.8 268.4,630.0 269.0,629.3 269.7,628.6 270.5,627.8 271.3,627.0 272.0,626.2 272.8,625.5 273.6,624.8 274.4,624.0 275.2,623.3 275.9,622.5 276.7,621.7 277.5,620.9 278.1,620.2 278.8,619.4 279.5,618.7 280.1,617.9 280.8,617.1 281.5,616.3 282.1,615.5 282.7,614.8 283.4,614.0 284.0,613.2 284.6,612.4 285.2,611.6 285.8,610.8 286.4,610.0 287.0,609.2 287.5,608.4 288.0,607.6 288.6,606.8 289.1,606.0 289.6,605.1 290.2,604.2 290.8,603.3 291.4,602.4 291.9,601.6 292.5,600.8 293.0,600.0 293.6,599.1 294.2,598.2 294.8,597.3 295.3,596.4 295.9,595.5 296.5,594.6 297.1,593.7 297.7,592.9 298.2,592.0 298.8,591.1 299.3,590.3 299.9,589.3 300.4,588.4 301.0,587.5 301.5,586.5 302.0,585.6 302.5,584.7 303.0,583.8 303.5,582.9 304.0,582.1 304.5,581.2 305.0,580.3 305.5,579.5 306.1,578.6 306.6,577.7 307.2,576.9 307.7,576.1 308.3,575.3 308.8,574.4 309.4,573.6 309.9,572.8 310.5,572.0 311.0,571.1 311.6,570.2 312.1,569.3 312.6,568.5 313.2,567.6 313.7,566.7 314.2,565.7 314.7,564.8 315.3,563.9 315.8,562.9 316.3,562.0 316.8,561.1 317.3,560.3 317.8,559.4 318.4,558.4 318.9,557.4 319.5,556.4 320.1,555.5 320.6,554.6 321.1,553.6 321.7,552.7 322.2,551.8 322.7,551.0 323.2,550.1 323.8,549.2 324.3,548.3 324.9,547.4 325.4,546.6 325.9,545.7 326.4,544.9 326.9,544.1 327.4,543.3 327.9,542.4 328.4,541.4 329.0,540.3 329.5,539.2 330.0,538.1 330.5,537.1 330.9,536.1 331.3,535.3 331.7,534.6 332.6,533.5 333.3,532.8 333.8,531.9 334.2,530.8 334.7,529.7 335.0,529.0" fill="none" stroke="#00ffff" stroke-width="5.0" stroke-linejoin="round" stroke-linecap="round" clip-path="url(#cc)"/>
<polyline points="60.0,719.0 60.5,719.0 61.1,719.0 61.6,719.0 62.2,719.0 62.9,719.0 63.5,719.0 64.2,719.0 64.9,719.0 65.7,719.0 66.4,719.0 67.2,719.0 68.0,719.0 68.9,719.0 69.7,719.0 70.6,719.0 71.5,719.0 72.4,719.0 73.4,719.0 74.3,719.0 75.3,719.1 76.3,719.1 77.3,719.1 78.3,719.1 79.4,719.1 80.4,719.1 81.5,719.1 82.6,719.1 83.7,719.1 84.8,719.1 85.9,719.1 87.0,719.1 88.2,719.1 89.3,719.1 90.5,719.1 91.6,719.1 92.8,719.1 94.0,719.1 95.1,719.1 96.3,719.1 97.5,719.1 98.7,719.1 99.9,719.1 101.1,719.1 102.3,719.1 103.5,719.2 104.7,719.2 105.8,719.2 107.0,719.2 108.2,719.2 109.4,719.2 110.6,719.2 111.8,719.2 112.9,719.2 114.1,719.2 115.3,719.2 116.4,719.2 117.6,719.2 118.7,719.2 119.8,719.2 120.9,719.2 122.0,719.2 123.1,719.1 124.2,719.1 125.3,719.1 126.3,719.1 127.4,719.1 128.4,719.1 129.4,719.1 130.4,719.1 131.4,719.1 132.3,719.1 133.3,719.1 134.2,719.1 135.1,719.1 136.0,719.1 136.8,719.0 137.6,719.0 138.5,719.0 139.2,719.0 140.0,719.0 141.5,719.0 142.9,718.9 144.3,718.9 145.7,718.9 147.0,718.8 148.4,718.8 149.6,718.8 150.9,718.7 152.1,718.7 153.3,718.6 154.4,718.6 155.6,718.6 156.7,718.5 157.7,718.5 158.8,718.4 159.8,718.4 160.8,718.3 161.8,718.2 162.8,718.2 163.7,718.1 164.6,718.1 165.5,718.0 166.4,718.0 167.3,717.9 168.2,717.8 169.0,717.8 169.9,717.7 170.7,717.6 171.5,717.6 172.3,717.5 173.1,717.4 173.9,717.4 174.7,717.3 175.4,717.2 176.2,717.2 177.0,717.1 177.7,717.0 178.5,716.9 179.2,716.9 180.0,716.8 181.5,716.6 182.8,716.5 184.1,716.3 185.4,716.1 186.5,716.0 187.6,715.8 188.6,715.6 189.6,715.4 190.6,715.2 191.5,715.0 192.4,714.8 193.3,714.6 194.2,714.4 195.0,714.2 195.9,714.0 196.8,713.8 197.7,713.6 198.6,713.4 199.6,713.2 200.6,713.0 201.6,712.8 202.6,712.6 203.6,712.4 204.6,712.2 205.7,712.1 206.7,711.9 207.7,711.7 208.8,711.5 209.8,711.3 210.8,711.1 211.8,710.9 212.8,710.7 213.8,710.5 214.8,710.3 215.8,710.1 216.8,709.9 217.7,709.7 218.6,709.5 219.5,709.3 220.4,709.1 221.2,708.9 222.4,708.6 223.6,708.2 224.7,707.9 225.8,707.6 226.9,707.2 227.9,706.9 228.9,706.5 229.9,706.2 230.8,705.8 231.7,705.5 232.6,705.1 233.4,704.8 234.2,704.4 235.0,704.1 236.3,703.5 237.4,702.9 238.3,702.4 239.2,701.8 240.1,701.2 240.9,700.7 241.8,700.1 242.7,699.5 243.6,699.0 244.4,698.5 245.3,697.9 246.2,697.4 247.0,696.9 247.9,696.4 248.8,695.8 249.6,695.3 250.5,694.8 251.5,694.2 252.4,693.7 253.4,693.1 254.4,692.6 255.3,692.0 256.3,691.5 257.2,690.9 258.2,690.2 259.1,689.6 259.9,688.9 260.8,688.3 261.6,687.6 262.5,686.9 263.3,686.2 264.2,685.5 265.0,684.7 265.9,684.0 266.7,683.3 267.4,682.7 268.2,682.0 269.0,681.3 269.7,680.6 270.5,679.9 271.3,679.2 272.1,678.5 272.8,677.8 273.6,677.0 274.3,676.3 275.0,675.6 275.7,674.8 276.4,674.0 277.1,673.3 277.8,672.5 278.5,671.7 279.2,670.9 279.9,670.1 280.7,669.3 281.4,668.5 282.1,667.8 282.8,667.0 283.6,666.2 284.3,665.4 285.1,664.7 285.9,663.9 286.6,663.1 287.4,662.3 288.1,661.6 288.8,660.9 289.4,660.2 290.0,659.5 290.8,658.6 291.6,657.7 292.2,656.9 292.9,656.1 293.5,655.3 294.0,654.6 294.5,653.9 295.0,653.1 295.5,652.2 296.0,651.3 296.3,650.5 296.7,649.6 297.1,648.6 297.6,647.2 297.9,646.4 298.2,645.6 298.6,644.7 298.9,643.7 299.3,642.7 299.7,641.6 300.1,640.6 300.5,639.5 300.9,638.5 301.2,637.5 301.6,636.5 301.9,635.6 302.2,634.8 302.6,633.6 303.0,632.6 303.3,631.8 303.7,630.9 304.0,630.1 304.3,629.2 304.6,628.2 305.0,627.1 305.3,626.3 305.5,625.4 305.8,624.5 306.0,623.5 306.3,622.5 306.6,621.5 306.9,620.5 307.2,619.4 307.5,618.3 307.8,617.2 308.2,616.1 308.6,615.0 308.9,614.1 309.3,613.3 309.6,612.4 310.0,611.5 310.4,610.6 310.8,609.6 311.2,608.7 311.6,607.7 312.0,606.8 312.5,605.8 312.9,604.9 313.3,603.9 313.7,602.9 314.0,601.9 314.4,601.0 314.7,600.0 315.0,599.0 315.3,598.1 315.6,597.1 315.8,596.1 316.1,595.1 316.4,594.1 316.6,593.1 316.8,592.1 317.1,591.1 317.3,590.1 317.5,589.1 317.7,588.1 317.9,587.1 318.2,586.1 318.4,585.1 318.6,584.1 318.8,583.1 319.1,582.0 319.3,581.0 319.5,579.9 319.7,578.9 319.9,577.9 320.1,576.8 320.3,575.8 320.5,574.8 320.7,573.7 320.9,572.7 321.1,571.7 321.3,570.7 321.5,569.6 321.7,568.6 321.9,567.6 322.1,566.5 322.3,565.5 322.5,564.5 322.7,563.5 322.9,562.4 323.1,561.4 323.4,560.4 323.6,559.4 323.8,558.3 324.0,557.3 324.2,556.3 324.4,555.3 324.6,554.2 324.8,553.2 325.0,552.1 325.2,551.1 325.4,549.9 325.7,548.8 325.9,547.6 326.1,546.5 326.3,545.4 326.6,544.2 326.8,543.1 327.0,542.1 327.2,541.1 327.4,540.1 327.6,539.2 327.7,538.4 327.9,537.7 328.3,536.0 328.6,535.0 328.9,534.2 329.2,533.6 329.4,532.8 329.7,531.5 330.0,530.1 330.3,528.9 330.5,528.0" fill="none" stroke="#ff00ff" stroke-width="5.0" stroke-linejoin="round" stroke-linecap="round" clip-path="url(#cc)"/>
<polyline points="60.0,718.0 60.5,718.0 61.1,718.0 61.7,718.0 62.3,718.0 63.0,718.0 63.8,718.0 64.5,718.0 65.3,718.0 66.1,718.0 67.0,718.0 67.9,718.0 68.8,718.0 69.8,718.0 70.8,718.0 71.8,718.0 72.8,718.0 73.9,718.0 74.9,718.0 76.0,718.0 77.1,718.0 78.3,718.0 79.4,718.0 80.6,718.0 81.8,718.0 83.0,718.0 84.2,718.0 85.4,718.0 86.6,718.0 87.8,718.0 89.0,718.0 90.3,718.0 91.5,718.0 92.8,718.0 94.0,718.0 95.2,718.0 96.5,718.0 97.7,718.0 98.9,718.0 100.1,718.0 101.3,718.0 102.5,718.0 103.7,718.0 104.9,718.0 106.1,718.0 107.2,718.0 108.4,718.0 109.5,718.0 110.6,718.0 111.6,718.0 112.7,718.0 113.7,718.0 114.7,718.0 115.7,718.0 116.7,718.0 117.6,718.0 118.5,718.0 119.4,718.0 120.2,718.0 121.0,718.0 121.8,718.0 122.5,718.0 123.2,718.0 123.8,718.0 124.4,718.0 125.0,718.0 129.9,718.0 131.4,717.9 131.1,717.8 130.4,717.7 130.9,717.5 131.8,717.4 132.7,717.2 133.7,717.0 134.7,716.8 135.8,716.6 136.9,716.3 138.0,716.1 139.1,715.9 140.2,715.7 141.2,715.5 142.2,715.3 143.3,715.2 144.3,715.0 145.3,714.9 146.3,714.7 147.4,714.6 148.4,714.4 149.4,714.3 150.5,714.1 151.5,714.0 152.5,713.9 153.6,713.7 154.6,713.6 155.7,713.4 156.7,713.3 157.8,713.2 158.8,713.0 159.8,712.9 160.9,712.7 161.9,712.6 162.9,712.5 164.0,712.3 165.0,712.2 166.1,712.0 167.1,711.9 168.1,711.8 169.1,711.6 170.1,711.5 171.1,711.3 172.0,711.2 173.1,711.0 174.1,710.9 175.1,710.7 176.0,710.6 176.9,710.4 177.9,710.2 178.9,710.1 180.0,709.9 181.0,709.8 182.0,709.6 183.1,709.4 184.2,709.3 185.3,709.1 186.4,709.0 187.4,708.8 188.5,708.6 189.4,708.5 190.3,708.3 191.5,708.0 192.5,707.8 193.4,707.6 194.2,707.3 195.2,707.0 196.4,706.5 197.2,706.2 198.0,705.8 198.9,705.4 199.8,705.0 200.8,704.5 201.8,704.1 202.8,703.6 203.8,703.1 204.8,702.7 205.7,702.3 206.7,701.9 207.7,701.5 208.8,701.1 209.9,700.8 211.0,700.4 212.1,700.1 213.1,699.7 214.2,699.4 215.2,699.1 216.1,698.8 217.0,698.5 218.2,698.1 219.2,697.7 220.2,697.4 221.1,697.0 222.1,696.7 223.0,696.4 224.0,696.0 225.0,695.7 226.0,695.3 227.0,695.0 228.0,694.7 229.1,694.3 230.2,693.9 231.5,693.4 232.3,693.1 233.2,692.7 234.1,692.4 235.1,692.0 236.1,691.6 237.1,691.1 238.1,690.7 239.1,690.3 240.1,689.9 241.0,689.4 241.9,689.0 242.7,688.6 243.7,688.1 244.7,687.5 245.6,686.9 246.4,686.4 247.2,685.8 248.0,685.3 248.8,684.7 249.7,684.2 250.5,683.6 251.4,683.0 252.2,682.5 253.1,681.9 253.9,681.4 254.8,680.8 255.6,680.3 256.5,679.7 257.3,679.2 258.2,678.6 259.1,678.0 259.9,677.4 260.8,676.9 261.6,676.3 262.5,675.7 263.3,675.1 264.2,674.5 265.0,673.8 265.9,673.2 266.8,672.6 267.6,671.9 268.5,671.2 269.3,670.6 270.2,669.9 271.0,669.2 271.9,668.5 272.7,667.8 273.6,667.0 274.4,666.3 275.2,665.5 276.0,664.7 276.8,663.9 277.6,663.1 278.3,662.3 279.1,661.5 279.9,660.7 280.7,660.0 281.4,659.3 282.2,658.6 283.0,657.9 283.8,657.2 284.6,656.6 285.3,655.9 286.1,655.3 286.8,654.7 287.6,654.1 288.3,653.4 289.1,652.6 289.9,651.9 290.7,651.2 291.5,650.4 292.2,649.6 293.0,648.9 293.7,648.0 294.5,647.2 295.2,646.4 295.9,645.6 296.6,644.7 297.3,643.8 298.0,642.9 298.7,642.0 299.4,641.1 300.0,640.3 300.6,639.5 301.3,638.5 302.0,637.6 302.6,636.8 303.2,635.9 303.7,635.1 304.4,634.2 305.0,633.3 305.6,632.5 306.2,631.6 306.8,630.8 307.5,629.9 308.1,629.1 308.8,628.2 309.4,627.4 310.0,626.5 310.6,625.7 311.1,624.9 311.7,624.1 312.2,623.3 312.8,622.5 313.3,621.6 314.0,620.6 314.6,619.5 315.0,618.7 315.5,617.9 316.0,617.0 316.4,616.1 316.9,615.2 317.4,614.2 317.9,613.2 318.5,612.2 319.0,611.2 319.4,610.2 319.9,609.2 320.4,608.2 320.8,607.3 321.2,606.3 321.7,605.3 322.1,604.3 322.5,603.3 322.9,602.3 323.2,601.3 323.6,600.3 324.0,599.3 324.4,598.2 324.7,597.2 325.1,596.2 325.5,595.2 325.9,594.3 326.2,593.3 326.6,592.4 326.9,591.4 327.3,590.4 327.6,589.5 328.0,588.5 328.3,587.6 328.7,586.6 329.0,585.7 329.4,584.7 329.7,583.8 330.1,582.8 330.5,581.8 330.8,580.9 331.2,579.9 331.5,579.0 331.9,578.0 332.2,577.0 332.6,576.1 332.9,575.1 333.3,574.2 333.6,573.3 334.0,572.3 334.3,571.4 334.7,570.5 335.1,569.5 335.5,568.6 335.9,567.6 336.3,566.7 336.7,565.7 337.1,564.8 337.4,563.9 337.8,563.0 338.2,562.1 338.6,561.2 339.0,560.3 339.4,559.4 339.9,558.4 340.3,557.3 340.7,556.3 341.2,555.3 341.6,554.3 342.0,553.4 342.5,552.4 343.0,551.4 343.5,550.5 344.0,549.5 344.5,548.6 345.0,547.7 345.6,546.8 346.1,545.9 346.7,545.0 347.3,544.1 347.9,543.2 348.5,542.3 349.1,541.5 349.6,540.7 350.2,540.0 351.0,539.1 351.8,538.2 352.7,537.3 353.5,536.5 354.3,535.8 355.1,535.1 355.8,534.5 356.4,533.9 357.5,532.7 358.2,531.9 359.0,531.0 359.8,530.2 360.7,529.3 361.5,528.5 362.0,528.0" fill="none" stroke="#808000" stroke-width="5.0" stroke-linejoin="round" stroke-linecap="round" clip-path="url(#cc)"/>
<polyline points="60.0,717.2 60.6,717.2 61.2,717.2 62.0,717.2 62.8,717.3 63.7,717.3 64.7,717.3 65.7,717.3 66.8,717.3 67.9,717.4 69.0,717.4 70.2,717.4 71.4,717.4 72.6,717.4 73.8,717.5 75.1,717.5 76.3,717.5 77.5,717.5 78.7,717.6 79.8,717.6 81.0,717.6 82.0,717.6 83.1,717.7 84.1,717.7 85.0,717.7 85.8,717.7 87.2,717.7 88.4,717.7 89.5,717.8 90.5,717.8 91.5,717.8 92.4,717.8 93.2,717.9 94.1,717.9 94.9,717.9 95.8,717.9 96.7,717.9 97.7,717.9 98.8,717.9 100.0,717.9 100.9,717.9 101.9,717.9 102.9,717.9 104.0,717.9 105.1,717.9 106.2,717.8 107.3,717.8 108.5,717.8 109.7,717.8 110.9,717.8 112.0,717.7 113.1,717.7 114.3,717.7 115.3,717.7 116.4,717.6 117.4,717.6 118.3,717.6 119.1,717.6 119.9,717.5 120.6,717.5 122.7,717.4 123.9,717.2 124.6,717.0 125.2,716.8 126.0,716.6 127.0,716.3 127.9,716.1 128.9,715.8 129.8,715.4 130.9,715.0 131.9,714.6 132.9,714.2 133.9,713.7 135.0,713.2 136.1,712.6 137.1,712.0 137.9,711.4 138.7,710.8 139.4,710.1 140.2,709.4 141.0,708.7 141.8,708.0 142.5,707.4 143.3,706.8 144.2,706.2 145.0,705.6 145.9,705.0 146.7,704.5 147.6,704.0 148.5,703.5 149.5,703.1 150.4,702.8 151.4,702.5 152.3,702.2 153.3,702.0 154.4,701.8 155.5,701.6 156.6,701.4 157.7,701.2 158.6,701.1 159.6,700.9 160.6,700.8 161.6,700.7 162.6,700.6 163.7,700.5 164.7,700.4 165.8,700.2 166.9,700.1 168.0,700.0 169.0,699.9 169.9,699.8 171.0,699.7 172.0,699.6 173.0,699.4 174.1,699.3 175.1,699.2 176.2,699.1 177.2,699.0 178.2,698.9 179.1,698.7 180.0,698.6 181.2,698.4 182.3,698.2 183.3,698.0 184.3,697.8 185.3,697.6 186.3,697.4 187.4,697.1 188.7,696.9 189.5,696.7 190.4,696.6 191.4,696.4 192.3,696.2 193.3,696.0 194.3,695.8 195.4,695.7 196.4,695.5 197.4,695.3 198.5,695.1 199.5,694.9 200.5,694.8 201.5,694.6 202.5,694.4 203.5,694.3 204.5,694.1 205.5,694.0 206.5,693.9 207.4,693.7 208.4,693.6 209.4,693.5 210.4,693.3 211.4,693.2 212.4,693.1 213.4,692.9 214.4,692.8 215.5,692.7 216.6,692.5 217.7,692.4 218.9,692.2 220.0,692.1 221.2,692.0 222.3,691.8 223.4,691.7 224.4,691.6 225.5,691.5 226.4,691.3 227.3,691.2 228.6,691.0 229.7,690.9 230.6,690.7 231.4,690.6 232.4,690.4 233.5,690.1 235.0,689.8 235.8,689.6 236.6,689.4 237.4,689.2 238.3,689.0 239.3,688.7 240.2,688.5 241.2,688.2 242.3,687.9 243.3,687.6 244.4,687.4 245.4,687.1 246.4,686.8 247.5,686.5 248.5,686.2 249.5,686.0 250.5,685.7 251.5,685.4 252.6,685.1 253.6,684.9 254.6,684.6 255.6,684.3 256.7,684.0 257.7,683.7 258.7,683.5 259.7,683.2 260.8,682.9 261.8,682.6 262.8,682.3 263.8,682.1 264.9,681.8 265.9,681.5 266.9,681.2 267.8,681.0 268.8,680.7 269.8,680.4 270.8,680.2 271.8,679.9 272.8,679.7 273.8,679.4 274.7,679.1 275.7,678.9 276.7,678.6 277.7,678.3 278.6,678.1 279.6,677.8 280.5,677.6 281.4,677.3 282.4,677.0 283.5,676.7 284.5,676.4 285.5,676.1 286.5,675.8 287.5,675.5 288.4,675.2 289.4,674.9 290.4,674.6 291.3,674.4 292.2,674.1 293.2,673.8 294.1,673.5 295.0,673.2 296.0,672.9 297.1,672.5 298.1,672.2 299.1,671.9 300.1,671.5 301.1,671.2 302.0,670.9 303.0,670.5 304.0,670.2 304.9,669.9 305.9,669.6 306.8,669.3 307.8,669.0 308.8,668.7 309.8,668.4 310.8,668.1 311.8,667.8 312.7,667.5 313.7,667.2 314.7,666.9 315.6,666.6 316.6,666.3 317.6,666.0 318.6,665.7 319.6,665.4 320.6,665.1 321.6,664.9 322.6,664.6 323.5,664.3 324.5,664.0 325.5,663.7 326.5,663.4 327.5,663.1 328.5,662.8 329.5,662.4 330.5,662.1 331.5,661.7 332.4,661.3 333.4,660.9 334.4,660.4 335.4,660.0 336.4,659.6 337.3,659.2 338.3,658.9 339.3,658.5 340.3,658.2 341.3,657.9 342.2,657.6 343.2,657.3 344.2,657.0 345.2,656.7 346.2,656.4 347.1,656.1 348.1,655.8 349.1,655.5 350.1,655.2 351.1,654.9 352.0,654.5 353.0,654.2 353.9,653.8 354.8,653.5 355.8,653.1 356.7,652.7 357.7,652.3 358.8,651.9 359.9,651.4 361.0,650.9 361.9,650.5 362.8,650.1 363.8,649.7 364.8,649.2 365.9,648.7 367.0,648.2 368.1,647.7 369.2,647.2 370.3,646.7 371.3,646.2 372.3,645.7 373.2,645.3 374.1,644.9 374.8,644.6 375.5,644.2 376.0,644.0" fill="none" stroke="#008000" stroke-width="5.0" stroke-linejoin="round" stroke-linecap="round" clip-path="url(#cc)"/>
<rect x="59.9" y="533.0" width="316.2" height="186.6" fill="none" stroke="#000" stroke-width="1.45"/>
<line x1="55.6" y1="717.5" x2="59.9" y2="717.5" stroke="#000" stroke-width="1.3"/>
<text x="53.2" y="720.8" font-size="10.3" font-weight="bold" font-family='"Liberation Sans", Arial, sans-serif' text-anchor="end" stroke="#000" stroke-width="0.35">0.0</text>
<line x1="57.5" y1="688.0" x2="59.9" y2="688.0" stroke="#000" stroke-width="1.3"/>
<line x1="55.6" y1="658.6" x2="59.9" y2="658.6" stroke="#000" stroke-width="1.3"/>
<text x="53.2" y="661.9" font-size="10.3" font-weight="bold" font-family='"Liberation Sans", Arial, sans-serif' text-anchor="end" stroke="#000" stroke-width="0.35">0.4</text>
<line x1="57.5" y1="629.1" x2="59.9" y2="629.1" stroke="#000" stroke-width="1.3"/>
<line x1="55.6" y1="599.7" x2="59.9" y2="599.7" stroke="#000" stroke-width="1.3"/>
<text x="53.2" y="603.0" font-size="10.3" font-weight="bold" font-family='"Liberation Sans", Arial, sans-serif' text-anchor="end" stroke="#000" stroke-width="0.35">0.8</text>
<line x1="57.5" y1="570.2" x2="59.9" y2="570.2" stroke="#000" stroke-width="1.3"/>
<line x1="55.6" y1="540.7" x2="59.9" y2="540.7" stroke="#000" stroke-width="1.3"/>
<text x="53.2" y="544.0" font-size="10.3" font-weight="bold" font-family='"Liberation Sans", Arial, sans-serif' text-anchor="end" stroke="#000" stroke-width="0.35">1.2</text>
<line x1="59.9" y1="719.6" x2="59.9" y2="723.6" stroke="#000" stroke-width="1.3"/>
<text x="59.9" y="737.2" font-size="10.5" font-weight="bold" font-family='"Liberation Sans", Arial, sans-serif' text-anchor="middle" stroke="#000" stroke-width="0.3">1.25</text>
<line x1="91.5" y1="719.6" x2="91.5" y2="721.8" stroke="#000" stroke-width="1.3"/>
<line x1="123.1" y1="719.6" x2="123.1" y2="723.6" stroke="#000" stroke-width="1.3"/>
<text x="123.1" y="737.2" font-size="10.5" font-weight="bold" font-family='"Liberation Sans", Arial, sans-serif' text-anchor="middle" stroke="#000" stroke-width="0.3">1.50</text>
<line x1="154.8" y1="719.6" x2="154.8" y2="721.8" stroke="#000" stroke-width="1.3"/>
<line x1="186.4" y1="719.6" x2="186.4" y2="723.6" stroke="#000" stroke-width="1.3"/>
<text x="186.4" y="737.2" font-size="10.5" font-weight="bold" font-family='"Liberation Sans", Arial, sans-serif' text-anchor="middle" stroke="#000" stroke-width="0.3">1.75</text>
<line x1="218.0" y1="719.6" x2="218.0" y2="721.8" stroke="#000" stroke-width="1.3"/>
<line x1="249.6" y1="719.6" x2="249.6" y2="723.6" stroke="#000" stroke-width="1.3"/>
<text x="249.6" y="737.2" font-size="10.5" font-weight="bold" font-family='"Liberation Sans", Arial, sans-serif' text-anchor="middle" stroke="#000" stroke-width="0.3">2.00</text>
<line x1="281.2" y1="719.6" x2="281.2" y2="721.8" stroke="#000" stroke-width="1.3"/>
<line x1="312.9" y1="719.6" x2="312.9" y2="723.6" stroke="#000" stroke-width="1.3"/>
<text x="312.9" y="737.2" font-size="10.5" font-weight="bold" font-family='"Liberation Sans", Arial, sans-serif' text-anchor="middle" stroke="#000" stroke-width="0.3">2.25</text>
<line x1="344.5" y1="719.6" x2="344.5" y2="721.8" stroke="#000" stroke-width="1.3"/>
<line x1="376.1" y1="719.6" x2="376.1" y2="723.6" stroke="#000" stroke-width="1.3"/>
<text x="376.1" y="737.2" font-size="10.5" font-weight="bold" font-family='"Liberation Sans", Arial, sans-serif' text-anchor="middle" stroke="#000" stroke-width="0.3">2.50</text>
<text x="152.4" y="754.2" font-size="12.6" font-weight="bold" font-family='"Liberation Sans", Arial, sans-serif' text-anchor="start" textLength="106" lengthAdjust="spacingAndGlyphs">photon energy/eV</text>
<g transform="translate(29.8,649.5) rotate(-90)">
<text x="0.0" y="0.0" font-size="13" font-weight="bold" font-family='"Liberation Sans", Arial, sans-serif' text-anchor="start" textLength="25.8" lengthAdjust="spacingAndGlyphs">(&#945;h&#965;)</text>
<text x="26.6" y="-6.0" font-size="10" font-weight="bold" font-family='"Liberation Sans", Arial, sans-serif' text-anchor="start">2</text>
<text x="38.6" y="0.0" font-size="13" font-weight="bold" font-family='"Liberation Sans", Arial, sans-serif' text-anchor="start" textLength="18.6" lengthAdjust="spacingAndGlyphs">/eV</text>
</g>
<text x="15.2" y="546.0" font-size="16.2" font-weight="bold" font-family='"Liberation Serif", "Times New Roman", serif' text-anchor="start">(c)</text>
<line x1="63.7" y1="537.4" x2="71.2" y2="537.4" stroke="#555" stroke-width="1.3"/>
<line x1="77.9" y1="537.4" x2="84.8" y2="537.4" stroke="#555" stroke-width="1.3"/>
<rect x="72.4" y="535.3" width="4.2" height="4.2" fill="#000000"/>
<text x="90.3" y="540.4" font-size="9.8" font-weight="bold" font-family='"Liberation Sans", Arial, sans-serif' text-anchor="start" stroke="#000" stroke-width="0.2" letter-spacing="0.65">FAPbBr<tspan font-size="9.6" letter-spacing="0.5" dy="3.0">3</tspan></text>
<line x1="63.7" y1="553.0" x2="71.2" y2="553.0" stroke="#555" stroke-width="1.3"/>
<line x1="77.9" y1="553.0" x2="84.8" y2="553.0" stroke="#555" stroke-width="1.3"/>
<rect x="72.4" y="550.9" width="4.2" height="4.2" fill="#ff0000"/>
<text x="90.3" y="556.0" font-size="9.8" font-weight="bold" font-family='"Liberation Sans", Arial, sans-serif' text-anchor="start" stroke="#000" stroke-width="0.2" letter-spacing="0.65">FAPbBr<tspan font-size="9.6" letter-spacing="0.5" dy="3.0">2.8</tspan><tspan font-size="10.2" letter-spacing="0" dx="0.5" dy="-3.0">I</tspan><tspan font-size="9.6" letter-spacing="0.5" dx="-0.2" dy="3.0">0.2</tspan></text>
<line x1="63.7" y1="568.6" x2="71.2" y2="568.6" stroke="#555" stroke-width="1.3"/>
<line x1="77.9" y1="568.6" x2="84.8" y2="568.6" stroke="#555" stroke-width="1.3"/>
<rect x="72.4" y="566.5" width="4.2" height="4.2" fill="#00ff00"/>
<text x="90.3" y="571.6" font-size="9.8" font-weight="bold" font-family='"Liberation Sans", Arial, sans-serif' text-anchor="start" stroke="#000" stroke-width="0.2" letter-spacing="0.65">FAPbBr<tspan font-size="9.6" letter-spacing="0.5" dy="3.0">2.6</tspan><tspan font-size="10.2" letter-spacing="0" dx="0.5" dy="-3.0">I</tspan><tspan font-size="9.6" letter-spacing="0.5" dx="-0.2" dy="3.0">0.4</tspan></text>
<line x1="63.7" y1="584.2" x2="71.2" y2="584.2" stroke="#555" stroke-width="1.3"/>
<line x1="77.9" y1="584.2" x2="84.8" y2="584.2" stroke="#555" stroke-width="1.3"/>
<rect x="72.4" y="582.1" width="4.2" height="4.2" fill="#0000ff"/>
<text x="90.3" y="587.2" font-size="9.8" font-weight="bold" font-family='"Liberation Sans", Arial, sans-serif' text-anchor="start" stroke="#000" stroke-width="0.2" letter-spacing="0.65">FAPbBr<tspan font-size="9.6" letter-spacing="0.5" dy="3.0">2.2</tspan><tspan font-size="10.2" letter-spacing="0" dx="0.5" dy="-3.0">I</tspan><tspan font-size="9.6" letter-spacing="0.5" dx="-0.2" dy="3.0">0.8</tspan></text>
<line x1="63.7" y1="599.8" x2="71.2" y2="599.8" stroke="#555" stroke-width="1.3"/>
<line x1="77.9" y1="599.8" x2="84.8" y2="599.8" stroke="#555" stroke-width="1.3"/>
<rect x="72.4" y="597.7" width="4.2" height="4.2" fill="#00ffff"/>
<text x="90.3" y="602.8" font-size="9.8" font-weight="bold" font-family='"Liberation Sans", Arial, sans-serif' text-anchor="start" stroke="#000" stroke-width="0.2" letter-spacing="0.65">FAPbBr<tspan font-size="9.6" letter-spacing="0.5" dy="3.0">2</tspan><tspan font-size="10.2" letter-spacing="0" dx="0.5" dy="-3.0">I</tspan><tspan font-size="9.6" letter-spacing="0.5" dx="-0.2" dy="3.0">1</tspan></text>
<line x1="63.7" y1="615.4" x2="71.2" y2="615.4" stroke="#555" stroke-width="1.3"/>
<line x1="77.9" y1="615.4" x2="84.8" y2="615.4" stroke="#555" stroke-width="1.3"/>
<rect x="72.4" y="613.3" width="4.2" height="4.2" fill="#ff00ff"/>
<text x="90.3" y="618.4" font-size="9.8" font-weight="bold" font-family='"Liberation Sans", Arial, sans-serif' text-anchor="start" stroke="#000" stroke-width="0.2" letter-spacing="0.65">FAPbBr<tspan font-size="9.6" letter-spacing="0.5" dy="3.0">1.6</tspan><tspan font-size="10.2" letter-spacing="0" dx="0.5" dy="-3.0">I</tspan><tspan font-size="9.6" letter-spacing="0.5" dx="-0.2" dy="3.0">1.4</tspan></text>
<line x1="63.7" y1="631.0" x2="71.2" y2="631.0" stroke="#555" stroke-width="1.3"/>
<line x1="77.9" y1="631.0" x2="84.8" y2="631.0" stroke="#555" stroke-width="1.3"/>
<rect x="72.4" y="628.9" width="4.2" height="4.2" fill="#808000"/>
<text x="90.3" y="634.0" font-size="9.8" font-weight="bold" font-family='"Liberation Sans", Arial, sans-serif' text-anchor="start" stroke="#000" stroke-width="0.2" letter-spacing="0.65">FAPbBr<tspan font-size="9.6" letter-spacing="0.5" dy="3.0">1.2</tspan><tspan font-size="10.2" letter-spacing="0" dx="0.5" dy="-3.0">I</tspan><tspan font-size="9.6" letter-spacing="0.5" dx="-0.2" dy="3.0">1.8</tspan></text>
<line x1="63.7" y1="646.6" x2="71.2" y2="646.6" stroke="#555" stroke-width="1.3"/>
<line x1="77.9" y1="646.6" x2="84.8" y2="646.6" stroke="#555" stroke-width="1.3"/>
<rect x="72.4" y="644.5" width="4.2" height="4.2" fill="#008000"/>
<text x="90.3" y="649.6" font-size="9.8" font-weight="bold" font-family='"Liberation Sans", Arial, sans-serif' text-anchor="start" stroke="#000" stroke-width="0.2" letter-spacing="0.65">FAPbI<tspan font-size="9.6" letter-spacing="0.5" dy="3.0">3</tspan></text>
</svg>
</body></html>
